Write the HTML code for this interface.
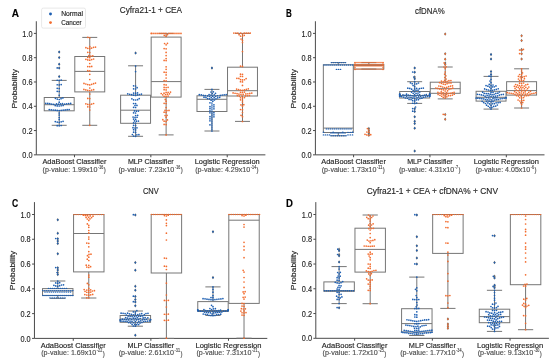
<!DOCTYPE html>
<html><head><meta charset="utf-8"><style>
html,body{margin:0;padding:0;background:#fff;width:550px;height:361px;overflow:hidden;position:relative}
text{font-family:"Liberation Sans", sans-serif;stroke:currentColor;stroke-width:0.15px;paint-order:stroke}
</style></head><body>
<svg width="550" height="361" viewBox="0 0 550 361" style="position:absolute;left:0;top:0;font-family:'Liberation Sans', sans-serif;filter:blur(0.28px)">
<rect width="550" height="361" fill="#ffffff"/>
<text x="150.9" y="13.3" font-size="8.5" text-anchor="middle" fill="#262626" color="#262626" font-weight="normal" textLength="62.2" lengthAdjust="spacingAndGlyphs">Cyfra21-1 + CEA</text>
<text x="11.87" y="16.7" font-size="10.2" text-anchor="start" fill="#000" color="#000" font-weight="bold" textLength="7.23" lengthAdjust="spacingAndGlyphs">A</text>
<text transform="translate(16.7,88.75) rotate(-90)" font-size="7.7" text-anchor="middle" fill="#262626" color="#262626" textLength="39.5" lengthAdjust="spacingAndGlyphs">Probability</text>
<path d="M36.3 21.25V154.85H265.4" fill="none" stroke="#4a4a4a" stroke-width="1"/>
<path d="M33.9 154.85H36.3" stroke="#4a4a4a" stroke-width="1"/>
<text x="32.5" y="157.95" font-size="8.6" text-anchor="end" fill="#262626" color="#262626" font-weight="normal" textLength="10.2" lengthAdjust="spacingAndGlyphs">0.0</text>
<path d="M33.9 130.56H36.3" stroke="#4a4a4a" stroke-width="1"/>
<text x="32.5" y="133.66" font-size="8.6" text-anchor="end" fill="#262626" color="#262626" font-weight="normal" textLength="10.2" lengthAdjust="spacingAndGlyphs">0.2</text>
<path d="M33.9 106.27H36.3" stroke="#4a4a4a" stroke-width="1"/>
<text x="32.5" y="109.37" font-size="8.6" text-anchor="end" fill="#262626" color="#262626" font-weight="normal" textLength="10.2" lengthAdjust="spacingAndGlyphs">0.4</text>
<path d="M33.9 81.98H36.3" stroke="#4a4a4a" stroke-width="1"/>
<text x="32.5" y="85.08" font-size="8.6" text-anchor="end" fill="#262626" color="#262626" font-weight="normal" textLength="10.2" lengthAdjust="spacingAndGlyphs">0.6</text>
<path d="M33.9 57.69H36.3" stroke="#4a4a4a" stroke-width="1"/>
<text x="32.5" y="60.79" font-size="8.6" text-anchor="end" fill="#262626" color="#262626" font-weight="normal" textLength="10.2" lengthAdjust="spacingAndGlyphs">0.8</text>
<path d="M33.9 33.4H36.3" stroke="#4a4a4a" stroke-width="1"/>
<text x="32.5" y="36.5" font-size="8.6" text-anchor="end" fill="#262626" color="#262626" font-weight="normal" textLength="10.2" lengthAdjust="spacingAndGlyphs">1.0</text>
<path d="M74.48 154.85V157.25" stroke="#4a4a4a" stroke-width="1"/>
<text x="74.48" y="164.25" font-size="7.2" text-anchor="middle" fill="#262626" color="#262626" font-weight="normal" textLength="64.1" lengthAdjust="spacingAndGlyphs">AdaBoost Classifier</text>
<text x="42.53" y="171.75" font-size="7.2" text-anchor="start" fill="#4d4d4d" color="#4d4d4d" font-weight="normal" textLength="54.9" lengthAdjust="spacingAndGlyphs">(p-value: 1.99x10</text>
<text x="98.03" y="168.75" font-size="4.6" text-anchor="start" fill="#4d4d4d" color="#4d4d4d" font-weight="normal" textLength="5.4" lengthAdjust="spacingAndGlyphs">-16</text>
<text x="103.83" y="172.05" font-size="7.2" text-anchor="start" fill="#4d4d4d" color="#4d4d4d" font-weight="normal" textLength="2" lengthAdjust="spacingAndGlyphs">)</text>
<path d="M150.85 154.85V157.25" stroke="#4a4a4a" stroke-width="1"/>
<text x="150.85" y="164.25" font-size="7.2" text-anchor="middle" fill="#262626" color="#262626" font-weight="normal" textLength="45.8" lengthAdjust="spacingAndGlyphs">MLP Classifier</text>
<text x="118.4" y="171.75" font-size="7.2" text-anchor="start" fill="#4d4d4d" color="#4d4d4d" font-weight="normal" textLength="55.9" lengthAdjust="spacingAndGlyphs">(p-value: 7.23x10</text>
<text x="174.9" y="168.75" font-size="4.6" text-anchor="start" fill="#4d4d4d" color="#4d4d4d" font-weight="normal" textLength="5.4" lengthAdjust="spacingAndGlyphs">-16</text>
<text x="180.7" y="172.05" font-size="7.2" text-anchor="start" fill="#4d4d4d" color="#4d4d4d" font-weight="normal" textLength="2" lengthAdjust="spacingAndGlyphs">)</text>
<path d="M227.22 154.85V157.25" stroke="#4a4a4a" stroke-width="1"/>
<text x="227.22" y="164.25" font-size="7.2" text-anchor="middle" fill="#262626" color="#262626" font-weight="normal" textLength="65" lengthAdjust="spacingAndGlyphs">Logistic Regression</text>
<text x="195.22" y="171.75" font-size="7.2" text-anchor="start" fill="#4d4d4d" color="#4d4d4d" font-weight="normal" textLength="55" lengthAdjust="spacingAndGlyphs">(p-value: 4.29x10</text>
<text x="250.82" y="168.75" font-size="4.6" text-anchor="start" fill="#4d4d4d" color="#4d4d4d" font-weight="normal" textLength="5.4" lengthAdjust="spacingAndGlyphs">-14</text>
<text x="256.62" y="172.05" font-size="7.2" text-anchor="start" fill="#4d4d4d" color="#4d4d4d" font-weight="normal" textLength="2" lengthAdjust="spacingAndGlyphs">)</text>
<rect x="44.24" y="97.5" width="29.94" height="13.3" fill="#fff" stroke="#767676" stroke-width="1.0"/>
<path d="M44.24 104.7H74.18M59.21 97.5V80.4M59.21 110.8V125.3M51.73 80.4H66.69M51.73 125.3H66.69" fill="none" stroke="#767676" stroke-width="1.0"/>
<rect x="74.79" y="56.5" width="29.94" height="35.4" fill="#fff" stroke="#767676" stroke-width="1.0"/>
<path d="M74.79 71.4H104.72M89.76 56.5V37.4M89.76 91.9V125.3M82.27 37.4H97.24M82.27 125.3H97.24" fill="none" stroke="#767676" stroke-width="1.0"/>
<rect x="120.61" y="95.2" width="29.94" height="28.1" fill="#fff" stroke="#767676" stroke-width="1.0"/>
<path d="M120.61 110.2H150.54M135.58 95.2V65.8M135.58 123.3V136.3M128.09 65.8H143.06M128.09 136.3H143.06" fill="none" stroke="#767676" stroke-width="1.0"/>
<rect x="151.16" y="37.1" width="29.94" height="60" fill="#fff" stroke="#767676" stroke-width="1.0"/>
<path d="M151.16 81.6H181.09M166.12 37.1V33.4M166.12 97.1V134.9M158.64 33.4H173.61M158.64 134.9H173.61" fill="none" stroke="#767676" stroke-width="1.0"/>
<rect x="196.98" y="95.8" width="29.94" height="15.7" fill="#fff" stroke="#767676" stroke-width="1.0"/>
<path d="M196.98 99.3H226.91M211.94 95.8V89.4M211.94 111.5V131M204.46 89.4H219.43M204.46 131H219.43" fill="none" stroke="#767676" stroke-width="1.0"/>
<rect x="227.52" y="67.2" width="29.94" height="28.8" fill="#fff" stroke="#767676" stroke-width="1.0"/>
<path d="M227.52 90.7H257.46M242.49 67.2V33.4M242.49 96V121.4M235.01 33.4H249.97M235.01 121.4H249.97" fill="none" stroke="#767676" stroke-width="1.0"/>
<path d="M59.21 50.15l1.15 1.75-1.15 1.75-1.15-1.75z" fill="#6e6e6e"/>
<path d="M59.21 55.85l1.15 1.75-1.15 1.75-1.15-1.75z" fill="#6e6e6e"/>
<path d="M59.21 62.45l1.15 1.75-1.15 1.75-1.15-1.75z" fill="#6e6e6e"/>
<path d="M59.21 66.35l1.15 1.75-1.15 1.75-1.15-1.75z" fill="#6e6e6e"/>
<path d="M59.21 74.85l1.15 1.75-1.15 1.75-1.15-1.75z" fill="#6e6e6e"/>
<path d="M135.58 51.35l1.15 1.75-1.15 1.75-1.15-1.75z" fill="#6e6e6e"/>
<path d="M211.94 66.15l1.15 1.75-1.15 1.75-1.15-1.75z" fill="#6e6e6e"/>
<g fill="#1d5fb2">
<ellipse cx="59.21" cy="125.8" rx="0.85" ry="0.85"/>
<ellipse cx="57.22" cy="125.65" rx="0.85" ry="0.85"/>
<ellipse cx="61.19" cy="125.5" rx="0.85" ry="0.85"/>
<ellipse cx="59.21" cy="122.3" rx="0.85" ry="0.85"/>
<ellipse cx="57.23" cy="122.05" rx="0.85" ry="0.85"/>
<ellipse cx="61.15" cy="121.8" rx="0.85" ry="0.85"/>
<ellipse cx="55.29" cy="121.55" rx="0.85" ry="0.85"/>
<ellipse cx="63.08" cy="121.3" rx="0.85" ry="0.85"/>
<ellipse cx="59.21" cy="119.5" rx="0.85" ry="0.85"/>
<ellipse cx="59.21" cy="117.5" rx="0.85" ry="0.85"/>
<ellipse cx="59.21" cy="115" rx="0.85" ry="0.85"/>
<ellipse cx="59.21" cy="113" rx="0.85" ry="0.85"/>
<ellipse cx="59.21" cy="110.5" rx="0.85" ry="0.85"/>
<ellipse cx="57.21" cy="110.4" rx="0.85" ry="0.85"/>
<ellipse cx="61.2" cy="110.3" rx="0.85" ry="0.85"/>
<ellipse cx="55.22" cy="110.2" rx="0.85" ry="0.85"/>
<ellipse cx="63.19" cy="110.1" rx="0.85" ry="0.85"/>
<ellipse cx="53.23" cy="110" rx="0.85" ry="0.85"/>
<ellipse cx="65.18" cy="109.9" rx="0.85" ry="0.85"/>
<ellipse cx="51.24" cy="109.8" rx="0.85" ry="0.85"/>
<ellipse cx="67.17" cy="109.7" rx="0.85" ry="0.85"/>
<ellipse cx="49.25" cy="109.6" rx="0.85" ry="0.85"/>
<ellipse cx="69.16" cy="109.5" rx="0.85" ry="0.85"/>
<ellipse cx="59.21" cy="106" rx="0.85" ry="0.85"/>
<ellipse cx="57.21" cy="105.88" rx="0.85" ry="0.85"/>
<ellipse cx="61.19" cy="105.75" rx="0.85" ry="0.85"/>
<ellipse cx="55.23" cy="105.62" rx="0.85" ry="0.85"/>
<ellipse cx="63.18" cy="105.5" rx="0.85" ry="0.85"/>
<ellipse cx="53.73" cy="104.3" rx="0.85" ry="0.85"/>
<ellipse cx="64.71" cy="104.22" rx="0.85" ry="0.85"/>
<ellipse cx="58.49" cy="104.13" rx="0.85" ry="0.85"/>
<ellipse cx="51.75" cy="104.05" rx="0.85" ry="0.85"/>
<ellipse cx="56.5" cy="103.97" rx="0.85" ry="0.85"/>
<ellipse cx="60.48" cy="103.88" rx="0.85" ry="0.85"/>
<ellipse cx="66.67" cy="103.8" rx="0.85" ry="0.85"/>
<ellipse cx="49.78" cy="103.72" rx="0.85" ry="0.85"/>
<ellipse cx="62.46" cy="103.63" rx="0.85" ry="0.85"/>
<ellipse cx="68.65" cy="103.55" rx="0.85" ry="0.85"/>
<ellipse cx="47.79" cy="103.47" rx="0.85" ry="0.85"/>
<ellipse cx="70.65" cy="103.38" rx="0.85" ry="0.85"/>
<ellipse cx="45.8" cy="103.3" rx="0.85" ry="0.85"/>
<ellipse cx="59.21" cy="102.2" rx="0.85" ry="0.85"/>
<ellipse cx="59.21" cy="99.5" rx="0.85" ry="0.85"/>
<ellipse cx="57.25" cy="99.1" rx="0.85" ry="0.85"/>
<ellipse cx="61.04" cy="98.7" rx="0.85" ry="0.85"/>
<ellipse cx="55.42" cy="98.3" rx="0.85" ry="0.85"/>
<ellipse cx="62.88" cy="97.9" rx="0.85" ry="0.85"/>
<ellipse cx="59.21" cy="95.3" rx="0.85" ry="0.85"/>
<ellipse cx="59.21" cy="91.5" rx="0.85" ry="0.85"/>
<ellipse cx="57.22" cy="91.3" rx="0.85" ry="0.85"/>
<ellipse cx="59.21" cy="88.5" rx="0.85" ry="0.85"/>
<ellipse cx="57.22" cy="88.3" rx="0.85" ry="0.85"/>
<ellipse cx="59.21" cy="84.9" rx="0.85" ry="0.85"/>
<ellipse cx="57.22" cy="84.75" rx="0.85" ry="0.85"/>
<ellipse cx="61.19" cy="84.6" rx="0.85" ry="0.85"/>
<ellipse cx="59.21" cy="80.4" rx="0.85" ry="0.85"/>
<ellipse cx="57.22" cy="80.25" rx="0.85" ry="0.85"/>
<ellipse cx="61.19" cy="80.1" rx="0.85" ry="0.85"/>
<ellipse cx="59.21" cy="76.6" rx="0.85" ry="0.85"/>
<ellipse cx="59.21" cy="68.1" rx="0.85" ry="0.85"/>
<ellipse cx="57.22" cy="67.9" rx="0.85" ry="0.85"/>
<ellipse cx="59.21" cy="64.2" rx="0.85" ry="0.85"/>
<ellipse cx="59.21" cy="57.6" rx="0.85" ry="0.85"/>
<ellipse cx="59.21" cy="51.9" rx="0.85" ry="0.85"/>
</g>
<g fill="#f36c2e">
<ellipse cx="89.76" cy="125.3" rx="0.85" ry="0.85"/>
<ellipse cx="89.76" cy="110" rx="0.85" ry="0.85"/>
<ellipse cx="89.76" cy="107" rx="0.85" ry="0.85"/>
<ellipse cx="87.77" cy="106.8" rx="0.85" ry="0.85"/>
<ellipse cx="89.76" cy="104.7" rx="0.85" ry="0.85"/>
<ellipse cx="87.78" cy="104.4" rx="0.85" ry="0.85"/>
<ellipse cx="91.66" cy="104.1" rx="0.85" ry="0.85"/>
<ellipse cx="85.87" cy="103.8" rx="0.85" ry="0.85"/>
<ellipse cx="93.57" cy="103.5" rx="0.85" ry="0.85"/>
<ellipse cx="89.76" cy="98.6" rx="0.85" ry="0.85"/>
<ellipse cx="87.77" cy="98.4" rx="0.85" ry="0.85"/>
<ellipse cx="89.76" cy="94" rx="0.85" ry="0.85"/>
<ellipse cx="89.76" cy="90.6" rx="0.85" ry="0.85"/>
<ellipse cx="87.77" cy="90.36" rx="0.85" ry="0.85"/>
<ellipse cx="91.7" cy="90.12" rx="0.85" ry="0.85"/>
<ellipse cx="85.83" cy="89.88" rx="0.85" ry="0.85"/>
<ellipse cx="93.64" cy="89.64" rx="0.85" ry="0.85"/>
<ellipse cx="83.89" cy="89.4" rx="0.85" ry="0.85"/>
<ellipse cx="89.76" cy="88" rx="0.85" ry="0.85"/>
<ellipse cx="89.76" cy="84.9" rx="0.85" ry="0.85"/>
<ellipse cx="87.78" cy="84.6" rx="0.85" ry="0.85"/>
<ellipse cx="91.66" cy="84.3" rx="0.85" ry="0.85"/>
<ellipse cx="85.87" cy="84" rx="0.85" ry="0.85"/>
<ellipse cx="93.57" cy="83.7" rx="0.85" ry="0.85"/>
<ellipse cx="83.96" cy="83.4" rx="0.85" ry="0.85"/>
<ellipse cx="95.48" cy="83.1" rx="0.85" ry="0.85"/>
<ellipse cx="89.76" cy="79.5" rx="0.85" ry="0.85"/>
<ellipse cx="89.76" cy="74.3" rx="0.85" ry="0.85"/>
<ellipse cx="89.76" cy="70.9" rx="0.85" ry="0.85"/>
<ellipse cx="87.77" cy="70.7" rx="0.85" ry="0.85"/>
<ellipse cx="89.76" cy="66.7" rx="0.85" ry="0.85"/>
<ellipse cx="87.76" cy="66.55" rx="0.85" ry="0.85"/>
<ellipse cx="91.73" cy="66.4" rx="0.85" ry="0.85"/>
<ellipse cx="89.76" cy="63.5" rx="0.85" ry="0.85"/>
<ellipse cx="89.76" cy="60.2" rx="0.85" ry="0.85"/>
<ellipse cx="87.78" cy="59.9" rx="0.85" ry="0.85"/>
<ellipse cx="91.66" cy="59.6" rx="0.85" ry="0.85"/>
<ellipse cx="85.87" cy="59.3" rx="0.85" ry="0.85"/>
<ellipse cx="93.57" cy="59" rx="0.85" ry="0.85"/>
<ellipse cx="89.76" cy="57.7" rx="0.85" ry="0.85"/>
<ellipse cx="87.77" cy="57.5" rx="0.85" ry="0.85"/>
<ellipse cx="90.81" cy="56" rx="0.85" ry="0.85"/>
<ellipse cx="92.8" cy="55.85" rx="0.85" ry="0.85"/>
<ellipse cx="88.83" cy="55.7" rx="0.85" ry="0.85"/>
<ellipse cx="89.76" cy="52.5" rx="0.85" ry="0.85"/>
<ellipse cx="87.77" cy="52.3" rx="0.85" ry="0.85"/>
<ellipse cx="89.76" cy="48.7" rx="0.85" ry="0.85"/>
<ellipse cx="87.78" cy="48.37" rx="0.85" ry="0.85"/>
<ellipse cx="91.64" cy="48.03" rx="0.85" ry="0.85"/>
<ellipse cx="85.9" cy="47.7" rx="0.85" ry="0.85"/>
<ellipse cx="93.53" cy="47.37" rx="0.85" ry="0.85"/>
<ellipse cx="95.5" cy="47.03" rx="0.85" ry="0.85"/>
<ellipse cx="89.76" cy="46.7" rx="0.85" ry="0.85"/>
<ellipse cx="89.76" cy="37.8" rx="0.85" ry="0.85"/>
<ellipse cx="87.82" cy="37.3" rx="0.85" ry="0.85"/>
</g>
<g fill="#1d5fb2">
<ellipse cx="135.58" cy="136.3" rx="0.85" ry="0.85"/>
<ellipse cx="133.59" cy="136.1" rx="0.85" ry="0.85"/>
<ellipse cx="136.9" cy="134.8" rx="0.85" ry="0.85"/>
<ellipse cx="138.89" cy="134.65" rx="0.85" ry="0.85"/>
<ellipse cx="132.39" cy="134.5" rx="0.85" ry="0.85"/>
<ellipse cx="135.58" cy="132.4" rx="0.85" ry="0.85"/>
<ellipse cx="133.59" cy="132.2" rx="0.85" ry="0.85"/>
<ellipse cx="135.58" cy="129.9" rx="0.85" ry="0.85"/>
<ellipse cx="133.59" cy="129.7" rx="0.85" ry="0.85"/>
<ellipse cx="134.95" cy="128" rx="0.85" ry="0.85"/>
<ellipse cx="136.95" cy="127.85" rx="0.85" ry="0.85"/>
<ellipse cx="132.97" cy="127.7" rx="0.85" ry="0.85"/>
<ellipse cx="135.58" cy="125.5" rx="0.85" ry="0.85"/>
<ellipse cx="133.59" cy="125.3" rx="0.85" ry="0.85"/>
<ellipse cx="135.58" cy="123" rx="0.85" ry="0.85"/>
<ellipse cx="133.59" cy="122.8" rx="0.85" ry="0.85"/>
<ellipse cx="136.45" cy="121.2" rx="0.85" ry="0.85"/>
<ellipse cx="138.44" cy="121.05" rx="0.85" ry="0.85"/>
<ellipse cx="134.47" cy="120.9" rx="0.85" ry="0.85"/>
<ellipse cx="135.67" cy="119.3" rx="0.85" ry="0.85"/>
<ellipse cx="133.6" cy="119.1" rx="0.85" ry="0.85"/>
<ellipse cx="135.05" cy="117.4" rx="0.85" ry="0.85"/>
<ellipse cx="137.04" cy="117.25" rx="0.85" ry="0.85"/>
<ellipse cx="133.07" cy="117.1" rx="0.85" ry="0.85"/>
<ellipse cx="135.67" cy="115.5" rx="0.85" ry="0.85"/>
<ellipse cx="137.66" cy="115.3" rx="0.85" ry="0.85"/>
<ellipse cx="135.58" cy="113" rx="0.85" ry="0.85"/>
<ellipse cx="133.59" cy="112.8" rx="0.85" ry="0.85"/>
<ellipse cx="136.45" cy="111.2" rx="0.85" ry="0.85"/>
<ellipse cx="138.44" cy="111.05" rx="0.85" ry="0.85"/>
<ellipse cx="134.47" cy="110.9" rx="0.85" ry="0.85"/>
<ellipse cx="135.58" cy="107.5" rx="0.85" ry="0.85"/>
<ellipse cx="133.59" cy="107.3" rx="0.85" ry="0.85"/>
<ellipse cx="134.95" cy="105.6" rx="0.85" ry="0.85"/>
<ellipse cx="136.94" cy="105.4" rx="0.85" ry="0.85"/>
<ellipse cx="135.58" cy="103.7" rx="0.85" ry="0.85"/>
<ellipse cx="133.59" cy="103.5" rx="0.85" ry="0.85"/>
<ellipse cx="135.58" cy="100" rx="0.85" ry="0.85"/>
<ellipse cx="133.58" cy="99.85" rx="0.85" ry="0.85"/>
<ellipse cx="137.55" cy="99.7" rx="0.85" ry="0.85"/>
<ellipse cx="131.88" cy="98.8" rx="0.85" ry="0.85"/>
<ellipse cx="139.22" cy="98.6" rx="0.85" ry="0.85"/>
<ellipse cx="135.58" cy="95.4" rx="0.85" ry="0.85"/>
<ellipse cx="133.59" cy="95.17" rx="0.85" ry="0.85"/>
<ellipse cx="137.52" cy="94.94" rx="0.85" ry="0.85"/>
<ellipse cx="131.64" cy="94.71" rx="0.85" ry="0.85"/>
<ellipse cx="139.47" cy="94.49" rx="0.85" ry="0.85"/>
<ellipse cx="129.7" cy="94.26" rx="0.85" ry="0.85"/>
<ellipse cx="141.42" cy="94.03" rx="0.85" ry="0.85"/>
<ellipse cx="127.75" cy="93.8" rx="0.85" ry="0.85"/>
<ellipse cx="135.58" cy="93.2" rx="0.85" ry="0.85"/>
<ellipse cx="133.58" cy="93.05" rx="0.85" ry="0.85"/>
<ellipse cx="137.55" cy="92.9" rx="0.85" ry="0.85"/>
<ellipse cx="135.58" cy="89" rx="0.85" ry="0.85"/>
<ellipse cx="133.59" cy="88.8" rx="0.85" ry="0.85"/>
<ellipse cx="137.1" cy="87.7" rx="0.85" ry="0.85"/>
<ellipse cx="135.58" cy="86" rx="0.85" ry="0.85"/>
<ellipse cx="133.59" cy="85.8" rx="0.85" ry="0.85"/>
<ellipse cx="135.58" cy="71.6" rx="0.85" ry="0.85"/>
<ellipse cx="135.58" cy="66.1" rx="0.85" ry="0.85"/>
<ellipse cx="135.58" cy="53.1" rx="0.85" ry="0.85"/>
</g>
<g fill="#f36c2e">
<ellipse cx="166.12" cy="134.9" rx="0.85" ry="0.85"/>
<ellipse cx="166.12" cy="124.6" rx="0.85" ry="0.85"/>
<ellipse cx="164.13" cy="124.4" rx="0.85" ry="0.85"/>
<ellipse cx="166.12" cy="121.4" rx="0.85" ry="0.85"/>
<ellipse cx="164.13" cy="121.2" rx="0.85" ry="0.85"/>
<ellipse cx="167.45" cy="119.9" rx="0.85" ry="0.85"/>
<ellipse cx="162.81" cy="119.7" rx="0.85" ry="0.85"/>
<ellipse cx="166.12" cy="117.2" rx="0.85" ry="0.85"/>
<ellipse cx="165.07" cy="115.5" rx="0.85" ry="0.85"/>
<ellipse cx="167.06" cy="115.3" rx="0.85" ry="0.85"/>
<ellipse cx="166.12" cy="112.4" rx="0.85" ry="0.85"/>
<ellipse cx="164.13" cy="112.2" rx="0.85" ry="0.85"/>
<ellipse cx="167" cy="110.6" rx="0.85" ry="0.85"/>
<ellipse cx="168.99" cy="110.45" rx="0.85" ry="0.85"/>
<ellipse cx="165.02" cy="110.3" rx="0.85" ry="0.85"/>
<ellipse cx="166.12" cy="107.5" rx="0.85" ry="0.85"/>
<ellipse cx="166.12" cy="103.5" rx="0.85" ry="0.85"/>
<ellipse cx="164.13" cy="103.3" rx="0.85" ry="0.85"/>
<ellipse cx="166.12" cy="101.2" rx="0.85" ry="0.85"/>
<ellipse cx="165.25" cy="99.4" rx="0.85" ry="0.85"/>
<ellipse cx="166.12" cy="96.4" rx="0.85" ry="0.85"/>
<ellipse cx="164.13" cy="96.25" rx="0.85" ry="0.85"/>
<ellipse cx="168.1" cy="96.1" rx="0.85" ry="0.85"/>
<ellipse cx="162.75" cy="94.8" rx="0.85" ry="0.85"/>
<ellipse cx="165.56" cy="94.48" rx="0.85" ry="0.85"/>
<ellipse cx="167.54" cy="94.16" rx="0.85" ry="0.85"/>
<ellipse cx="169.51" cy="93.84" rx="0.85" ry="0.85"/>
<ellipse cx="161.21" cy="93.52" rx="0.85" ry="0.85"/>
<ellipse cx="164.03" cy="93.2" rx="0.85" ry="0.85"/>
<ellipse cx="166.12" cy="92.4" rx="0.85" ry="0.85"/>
<ellipse cx="168.13" cy="92.25" rx="0.85" ry="0.85"/>
<ellipse cx="170.5" cy="92.1" rx="0.85" ry="0.85"/>
<ellipse cx="166.12" cy="89.9" rx="0.85" ry="0.85"/>
<ellipse cx="164.13" cy="89.7" rx="0.85" ry="0.85"/>
<ellipse cx="166.12" cy="87.6" rx="0.85" ry="0.85"/>
<ellipse cx="164.13" cy="87.45" rx="0.85" ry="0.85"/>
<ellipse cx="168.1" cy="87.3" rx="0.85" ry="0.85"/>
<ellipse cx="166.12" cy="84.9" rx="0.85" ry="0.85"/>
<ellipse cx="164.13" cy="84.7" rx="0.85" ry="0.85"/>
<ellipse cx="166.12" cy="80.9" rx="0.85" ry="0.85"/>
<ellipse cx="164.13" cy="80.7" rx="0.85" ry="0.85"/>
<ellipse cx="166.12" cy="78" rx="0.85" ry="0.85"/>
<ellipse cx="166.12" cy="74.9" rx="0.85" ry="0.85"/>
<ellipse cx="166.12" cy="72.4" rx="0.85" ry="0.85"/>
<ellipse cx="164.13" cy="72.2" rx="0.85" ry="0.85"/>
<ellipse cx="166.12" cy="69.3" rx="0.85" ry="0.85"/>
<ellipse cx="166.12" cy="66.8" rx="0.85" ry="0.85"/>
<ellipse cx="166.12" cy="60.6" rx="0.85" ry="0.85"/>
<ellipse cx="164.13" cy="60.4" rx="0.85" ry="0.85"/>
<ellipse cx="166.12" cy="58.6" rx="0.85" ry="0.85"/>
<ellipse cx="166.12" cy="55.6" rx="0.85" ry="0.85"/>
<ellipse cx="166.12" cy="52.4" rx="0.85" ry="0.85"/>
<ellipse cx="166.12" cy="48.8" rx="0.85" ry="0.85"/>
<ellipse cx="164.13" cy="48.6" rx="0.85" ry="0.85"/>
<ellipse cx="166.12" cy="44.8" rx="0.85" ry="0.85"/>
<ellipse cx="164.6" cy="43.5" rx="0.85" ry="0.85"/>
<ellipse cx="167.45" cy="43.3" rx="0.85" ry="0.85"/>
<ellipse cx="166.12" cy="36.2" rx="0.85" ry="0.85"/>
<ellipse cx="164.27" cy="35.45" rx="0.85" ry="0.85"/>
<ellipse cx="167.45" cy="34.7" rx="0.85" ry="0.85"/>
<ellipse cx="165.93" cy="33.4" rx="0.85" ry="0.85"/>
<ellipse cx="163.93" cy="33.4" rx="0.85" ry="0.85"/>
<ellipse cx="168.97" cy="33.4" rx="0.85" ry="0.85"/>
<ellipse cx="161.93" cy="33.4" rx="0.85" ry="0.85"/>
<ellipse cx="170.97" cy="33.4" rx="0.85" ry="0.85"/>
<ellipse cx="159.93" cy="33.4" rx="0.85" ry="0.85"/>
<ellipse cx="172.97" cy="33.4" rx="0.85" ry="0.85"/>
<ellipse cx="157.93" cy="33.4" rx="0.85" ry="0.85"/>
<ellipse cx="174.97" cy="33.4" rx="0.85" ry="0.85"/>
<ellipse cx="155.93" cy="33.4" rx="0.85" ry="0.85"/>
<ellipse cx="176.97" cy="33.4" rx="0.85" ry="0.85"/>
<ellipse cx="153.93" cy="33.4" rx="0.85" ry="0.85"/>
<ellipse cx="178.97" cy="33.4" rx="0.85" ry="0.85"/>
<ellipse cx="151.93" cy="33.4" rx="0.85" ry="0.85"/>
<ellipse cx="180.97" cy="33.4" rx="0.85" ry="0.85"/>
<ellipse cx="151.16" cy="33.4" rx="0.85" ry="0.85"/>
</g>
<g fill="#1d5fb2">
<ellipse cx="211.94" cy="131" rx="0.85" ry="0.85"/>
<ellipse cx="211.94" cy="129" rx="0.85" ry="0.85"/>
<ellipse cx="211.94" cy="127" rx="0.85" ry="0.85"/>
<ellipse cx="211.94" cy="125" rx="0.85" ry="0.85"/>
<ellipse cx="209.95" cy="124.8" rx="0.85" ry="0.85"/>
<ellipse cx="211.94" cy="123" rx="0.85" ry="0.85"/>
<ellipse cx="211.94" cy="121" rx="0.85" ry="0.85"/>
<ellipse cx="209.95" cy="120.8" rx="0.85" ry="0.85"/>
<ellipse cx="211.94" cy="119" rx="0.85" ry="0.85"/>
<ellipse cx="209.95" cy="118.8" rx="0.85" ry="0.85"/>
<ellipse cx="211.94" cy="117" rx="0.85" ry="0.85"/>
<ellipse cx="213.94" cy="116.85" rx="0.85" ry="0.85"/>
<ellipse cx="209.97" cy="116.7" rx="0.85" ry="0.85"/>
<ellipse cx="211.94" cy="115" rx="0.85" ry="0.85"/>
<ellipse cx="213.93" cy="114.8" rx="0.85" ry="0.85"/>
<ellipse cx="211.94" cy="113" rx="0.85" ry="0.85"/>
<ellipse cx="209.95" cy="112.85" rx="0.85" ry="0.85"/>
<ellipse cx="213.92" cy="112.7" rx="0.85" ry="0.85"/>
<ellipse cx="211.94" cy="111" rx="0.85" ry="0.85"/>
<ellipse cx="209.95" cy="110.8" rx="0.85" ry="0.85"/>
<ellipse cx="211.94" cy="109" rx="0.85" ry="0.85"/>
<ellipse cx="213.94" cy="108.85" rx="0.85" ry="0.85"/>
<ellipse cx="209.97" cy="108.7" rx="0.85" ry="0.85"/>
<ellipse cx="211.94" cy="107" rx="0.85" ry="0.85"/>
<ellipse cx="213.94" cy="106.85" rx="0.85" ry="0.85"/>
<ellipse cx="209.97" cy="106.7" rx="0.85" ry="0.85"/>
<ellipse cx="211.94" cy="105" rx="0.85" ry="0.85"/>
<ellipse cx="213.93" cy="104.8" rx="0.85" ry="0.85"/>
<ellipse cx="211.94" cy="103" rx="0.85" ry="0.85"/>
<ellipse cx="209.95" cy="102.8" rx="0.85" ry="0.85"/>
<ellipse cx="212.82" cy="101.2" rx="0.85" ry="0.85"/>
<ellipse cx="211.08" cy="100.2" rx="0.85" ry="0.85"/>
<ellipse cx="214.42" cy="100" rx="0.85" ry="0.85"/>
<ellipse cx="212.68" cy="99" rx="0.85" ry="0.85"/>
<ellipse cx="209.59" cy="98.87" rx="0.85" ry="0.85"/>
<ellipse cx="215.96" cy="98.73" rx="0.85" ry="0.85"/>
<ellipse cx="207.61" cy="98.6" rx="0.85" ry="0.85"/>
<ellipse cx="217.73" cy="97.8" rx="0.85" ry="0.85"/>
<ellipse cx="214.19" cy="97.68" rx="0.85" ry="0.85"/>
<ellipse cx="211.3" cy="97.56" rx="0.85" ry="0.85"/>
<ellipse cx="205.98" cy="97.44" rx="0.85" ry="0.85"/>
<ellipse cx="219.67" cy="97.32" rx="0.85" ry="0.85"/>
<ellipse cx="204" cy="97.2" rx="0.85" ry="0.85"/>
<ellipse cx="209.6" cy="96.5" rx="0.85" ry="0.85"/>
<ellipse cx="215.65" cy="96.32" rx="0.85" ry="0.85"/>
<ellipse cx="212.7" cy="96.14" rx="0.85" ry="0.85"/>
<ellipse cx="207.67" cy="95.95" rx="0.85" ry="0.85"/>
<ellipse cx="217.57" cy="95.77" rx="0.85" ry="0.85"/>
<ellipse cx="205.22" cy="95.59" rx="0.85" ry="0.85"/>
<ellipse cx="220.26" cy="95.41" rx="0.85" ry="0.85"/>
<ellipse cx="203.25" cy="95.23" rx="0.85" ry="0.85"/>
<ellipse cx="211.02" cy="95.05" rx="0.85" ry="0.85"/>
<ellipse cx="222.22" cy="95" rx="0.85" ry="0.85"/>
<ellipse cx="214.25" cy="94.87" rx="0.85" ry="0.85"/>
<ellipse cx="201.29" cy="94.86" rx="0.85" ry="0.85"/>
<ellipse cx="224.2" cy="94.73" rx="0.85" ry="0.85"/>
<ellipse cx="199.29" cy="94.68" rx="0.85" ry="0.85"/>
<ellipse cx="226.2" cy="94.6" rx="0.85" ry="0.85"/>
<ellipse cx="209.1" cy="94.5" rx="0.85" ry="0.85"/>
<ellipse cx="212.29" cy="93.5" rx="0.85" ry="0.85"/>
<ellipse cx="215.49" cy="93.3" rx="0.85" ry="0.85"/>
<ellipse cx="210.97" cy="92" rx="0.85" ry="0.85"/>
<ellipse cx="213.35" cy="91.8" rx="0.85" ry="0.85"/>
<ellipse cx="211.94" cy="89.4" rx="0.85" ry="0.85"/>
<ellipse cx="211.94" cy="67.9" rx="0.85" ry="0.85"/>
</g>
<g fill="#f36c2e">
<ellipse cx="242.49" cy="121.5" rx="0.85" ry="0.85"/>
<ellipse cx="242.49" cy="116.7" rx="0.85" ry="0.85"/>
<ellipse cx="241.06" cy="115.3" rx="0.85" ry="0.85"/>
<ellipse cx="242.49" cy="112.5" rx="0.85" ry="0.85"/>
<ellipse cx="242.49" cy="109.7" rx="0.85" ry="0.85"/>
<ellipse cx="240.5" cy="109.5" rx="0.85" ry="0.85"/>
<ellipse cx="242.49" cy="106.2" rx="0.85" ry="0.85"/>
<ellipse cx="240.97" cy="104.9" rx="0.85" ry="0.85"/>
<ellipse cx="243.81" cy="104.7" rx="0.85" ry="0.85"/>
<ellipse cx="242.49" cy="102.1" rx="0.85" ry="0.85"/>
<ellipse cx="242.49" cy="100" rx="0.85" ry="0.85"/>
<ellipse cx="240.5" cy="99.8" rx="0.85" ry="0.85"/>
<ellipse cx="242.49" cy="97.9" rx="0.85" ry="0.85"/>
<ellipse cx="240.5" cy="97.75" rx="0.85" ry="0.85"/>
<ellipse cx="244.47" cy="97.6" rx="0.85" ry="0.85"/>
<ellipse cx="239.37" cy="96.1" rx="0.85" ry="0.85"/>
<ellipse cx="241.93" cy="95.98" rx="0.85" ry="0.85"/>
<ellipse cx="245.45" cy="95.86" rx="0.85" ry="0.85"/>
<ellipse cx="247.45" cy="95.74" rx="0.85" ry="0.85"/>
<ellipse cx="237.42" cy="95.62" rx="0.85" ry="0.85"/>
<ellipse cx="249.44" cy="95.5" rx="0.85" ry="0.85"/>
<ellipse cx="243.16" cy="94.4" rx="0.85" ry="0.85"/>
<ellipse cx="240.96" cy="94.23" rx="0.85" ry="0.85"/>
<ellipse cx="238.96" cy="94.07" rx="0.85" ry="0.85"/>
<ellipse cx="245.85" cy="93.9" rx="0.85" ry="0.85"/>
<ellipse cx="247.84" cy="93.73" rx="0.85" ry="0.85"/>
<ellipse cx="237.03" cy="93.57" rx="0.85" ry="0.85"/>
<ellipse cx="249.82" cy="93.4" rx="0.85" ry="0.85"/>
<ellipse cx="235.05" cy="93.23" rx="0.85" ry="0.85"/>
<ellipse cx="251.79" cy="93.07" rx="0.85" ry="0.85"/>
<ellipse cx="233.08" cy="92.9" rx="0.85" ry="0.85"/>
<ellipse cx="242.49" cy="92.4" rx="0.85" ry="0.85"/>
<ellipse cx="240.5" cy="92.25" rx="0.85" ry="0.85"/>
<ellipse cx="244.47" cy="92.1" rx="0.85" ry="0.85"/>
<ellipse cx="242.49" cy="90.3" rx="0.85" ry="0.85"/>
<ellipse cx="240.51" cy="90.05" rx="0.85" ry="0.85"/>
<ellipse cx="244.43" cy="89.8" rx="0.85" ry="0.85"/>
<ellipse cx="238.57" cy="89.55" rx="0.85" ry="0.85"/>
<ellipse cx="246.36" cy="89.3" rx="0.85" ry="0.85"/>
<ellipse cx="236.63" cy="89.05" rx="0.85" ry="0.85"/>
<ellipse cx="248.3" cy="88.8" rx="0.85" ry="0.85"/>
<ellipse cx="242.49" cy="85.4" rx="0.85" ry="0.85"/>
<ellipse cx="242.49" cy="81.9" rx="0.85" ry="0.85"/>
<ellipse cx="240.5" cy="81.7" rx="0.85" ry="0.85"/>
<ellipse cx="242.49" cy="79.9" rx="0.85" ry="0.85"/>
<ellipse cx="244.48" cy="79.75" rx="0.85" ry="0.85"/>
<ellipse cx="240.51" cy="79.6" rx="0.85" ry="0.85"/>
<ellipse cx="246.12" cy="78.6" rx="0.85" ry="0.85"/>
<ellipse cx="238.88" cy="78.45" rx="0.85" ry="0.85"/>
<ellipse cx="236.88" cy="78.3" rx="0.85" ry="0.85"/>
<ellipse cx="242.49" cy="76.5" rx="0.85" ry="0.85"/>
<ellipse cx="240.5" cy="76.3" rx="0.85" ry="0.85"/>
<ellipse cx="242.49" cy="74.4" rx="0.85" ry="0.85"/>
<ellipse cx="240.5" cy="74.2" rx="0.85" ry="0.85"/>
<ellipse cx="242.49" cy="66.4" rx="0.85" ry="0.85"/>
<ellipse cx="240.5" cy="66.2" rx="0.85" ry="0.85"/>
<ellipse cx="242.49" cy="51.5" rx="0.85" ry="0.85"/>
<ellipse cx="242.49" cy="42.5" rx="0.85" ry="0.85"/>
<ellipse cx="242.49" cy="40.4" rx="0.85" ry="0.85"/>
<ellipse cx="241.06" cy="39" rx="0.85" ry="0.85"/>
<ellipse cx="242.49" cy="36.3" rx="0.85" ry="0.85"/>
<ellipse cx="240.5" cy="36.1" rx="0.85" ry="0.85"/>
<ellipse cx="244.22" cy="35.3" rx="0.85" ry="0.85"/>
<ellipse cx="239.07" cy="34.7" rx="0.85" ry="0.85"/>
<ellipse cx="242.49" cy="34.1" rx="0.85" ry="0.85"/>
<ellipse cx="240.76" cy="33.1" rx="0.85" ry="0.85"/>
<ellipse cx="244.22" cy="33.1" rx="0.85" ry="0.85"/>
<ellipse cx="246.22" cy="33.1" rx="0.85" ry="0.85"/>
<ellipse cx="237.87" cy="33.1" rx="0.85" ry="0.85"/>
<ellipse cx="248.22" cy="33.1" rx="0.85" ry="0.85"/>
<ellipse cx="235.87" cy="33.1" rx="0.85" ry="0.85"/>
<ellipse cx="250.22" cy="33.1" rx="0.85" ry="0.85"/>
<ellipse cx="233.87" cy="33.1" rx="0.85" ry="0.85"/>
</g>
<text x="429.85" y="13.5" font-size="8.5" text-anchor="middle" fill="#262626" color="#262626" font-weight="normal" textLength="29.7" lengthAdjust="spacingAndGlyphs">cfDNA%</text>
<text x="286" y="16.7" font-size="10.2" text-anchor="start" fill="#000" color="#000" font-weight="bold" textLength="5.8" lengthAdjust="spacingAndGlyphs">B</text>
<text transform="translate(295.8,88.75) rotate(-90)" font-size="7.7" text-anchor="middle" fill="#262626" color="#262626" textLength="39.5" lengthAdjust="spacingAndGlyphs">Probability</text>
<path d="M315.4 21.25V154.85H544.5" fill="none" stroke="#4a4a4a" stroke-width="1"/>
<path d="M313 154.85H315.4" stroke="#4a4a4a" stroke-width="1"/>
<text x="311.6" y="157.95" font-size="8.6" text-anchor="end" fill="#262626" color="#262626" font-weight="normal" textLength="10.2" lengthAdjust="spacingAndGlyphs">0.0</text>
<path d="M313 130.56H315.4" stroke="#4a4a4a" stroke-width="1"/>
<text x="311.6" y="133.66" font-size="8.6" text-anchor="end" fill="#262626" color="#262626" font-weight="normal" textLength="10.2" lengthAdjust="spacingAndGlyphs">0.2</text>
<path d="M313 106.27H315.4" stroke="#4a4a4a" stroke-width="1"/>
<text x="311.6" y="109.37" font-size="8.6" text-anchor="end" fill="#262626" color="#262626" font-weight="normal" textLength="10.2" lengthAdjust="spacingAndGlyphs">0.4</text>
<path d="M313 81.98H315.4" stroke="#4a4a4a" stroke-width="1"/>
<text x="311.6" y="85.08" font-size="8.6" text-anchor="end" fill="#262626" color="#262626" font-weight="normal" textLength="10.2" lengthAdjust="spacingAndGlyphs">0.6</text>
<path d="M313 57.69H315.4" stroke="#4a4a4a" stroke-width="1"/>
<text x="311.6" y="60.79" font-size="8.6" text-anchor="end" fill="#262626" color="#262626" font-weight="normal" textLength="10.2" lengthAdjust="spacingAndGlyphs">0.8</text>
<path d="M313 33.4H315.4" stroke="#4a4a4a" stroke-width="1"/>
<text x="311.6" y="36.5" font-size="8.6" text-anchor="end" fill="#262626" color="#262626" font-weight="normal" textLength="10.2" lengthAdjust="spacingAndGlyphs">1.0</text>
<path d="M353.58 154.85V157.25" stroke="#4a4a4a" stroke-width="1"/>
<text x="353.58" y="164.25" font-size="7.2" text-anchor="middle" fill="#262626" color="#262626" font-weight="normal" textLength="64.6" lengthAdjust="spacingAndGlyphs">AdaBoost Classifier</text>
<text x="321.78" y="171.75" font-size="7.2" text-anchor="start" fill="#4d4d4d" color="#4d4d4d" font-weight="normal" textLength="54.6" lengthAdjust="spacingAndGlyphs">(p-value: 1.73x10</text>
<text x="376.98" y="168.75" font-size="4.6" text-anchor="start" fill="#4d4d4d" color="#4d4d4d" font-weight="normal" textLength="5.4" lengthAdjust="spacingAndGlyphs">-11</text>
<text x="382.78" y="172.05" font-size="7.2" text-anchor="start" fill="#4d4d4d" color="#4d4d4d" font-weight="normal" textLength="2" lengthAdjust="spacingAndGlyphs">)</text>
<path d="M429.95 154.85V157.25" stroke="#4a4a4a" stroke-width="1"/>
<text x="429.95" y="164.25" font-size="7.2" text-anchor="middle" fill="#262626" color="#262626" font-weight="normal" textLength="45.6" lengthAdjust="spacingAndGlyphs">MLP Classifier</text>
<text x="398.9" y="171.75" font-size="7.2" text-anchor="start" fill="#4d4d4d" color="#4d4d4d" font-weight="normal" textLength="55.3" lengthAdjust="spacingAndGlyphs">(p-value: 4.31x10</text>
<text x="454.8" y="168.75" font-size="4.6" text-anchor="start" fill="#4d4d4d" color="#4d4d4d" font-weight="normal" textLength="3.2" lengthAdjust="spacingAndGlyphs">-7</text>
<text x="458.4" y="172.05" font-size="7.2" text-anchor="start" fill="#4d4d4d" color="#4d4d4d" font-weight="normal" textLength="2" lengthAdjust="spacingAndGlyphs">)</text>
<path d="M506.32 154.85V157.25" stroke="#4a4a4a" stroke-width="1"/>
<text x="506.32" y="164.25" font-size="7.2" text-anchor="middle" fill="#262626" color="#262626" font-weight="normal" textLength="65.2" lengthAdjust="spacingAndGlyphs">Logistic Regression</text>
<text x="475.62" y="171.75" font-size="7.2" text-anchor="start" fill="#4d4d4d" color="#4d4d4d" font-weight="normal" textLength="54.6" lengthAdjust="spacingAndGlyphs">(p-value: 4.05x10</text>
<text x="530.82" y="168.75" font-size="4.6" text-anchor="start" fill="#4d4d4d" color="#4d4d4d" font-weight="normal" textLength="3.2" lengthAdjust="spacingAndGlyphs">-6</text>
<text x="534.42" y="172.05" font-size="7.2" text-anchor="start" fill="#4d4d4d" color="#4d4d4d" font-weight="normal" textLength="2" lengthAdjust="spacingAndGlyphs">)</text>
<rect x="323.34" y="64.8" width="29.94" height="67.7" fill="#fff" stroke="#767676" stroke-width="1.0"/>
<path d="M323.34 128.1H353.28M338.31 64.8V62.6M338.31 132.5V135.8M330.83 62.6H345.79M330.83 135.8H345.79" fill="none" stroke="#767676" stroke-width="1.0"/>
<rect x="353.89" y="64.4" width="29.94" height="4.7" fill="#fff" stroke="#767676" stroke-width="1.0"/>
<path d="M353.89 65.5H383.82M368.86 64.4V62.6M368.86 69.1V69.1M361.37 62.6H376.34M361.37 69.1H376.34" fill="none" stroke="#767676" stroke-width="1.0"/>
<rect x="399.71" y="91.5" width="29.94" height="6.5" fill="#fff" stroke="#767676" stroke-width="1.0"/>
<path d="M399.71 95.5H429.64M414.68 91.5V81.7M414.68 98V103.4M407.19 81.7H422.16M407.19 103.4H422.16" fill="none" stroke="#767676" stroke-width="1.0"/>
<rect x="430.26" y="82.2" width="29.94" height="11.1" fill="#fff" stroke="#767676" stroke-width="1.0"/>
<path d="M430.26 88.7H460.19M445.22 82.2V67M445.22 93.3V98.9M437.74 67H452.71M437.74 98.9H452.71" fill="none" stroke="#767676" stroke-width="1.0"/>
<rect x="476.08" y="91.3" width="29.94" height="9.8" fill="#fff" stroke="#767676" stroke-width="1.0"/>
<path d="M476.08 97.3H506.01M491.04 91.3V76.4M491.04 101.1V109.1M483.56 76.4H498.53M483.56 109.1H498.53" fill="none" stroke="#767676" stroke-width="1.0"/>
<rect x="506.62" y="81.7" width="29.94" height="13.4" fill="#fff" stroke="#767676" stroke-width="1.0"/>
<path d="M506.62 90.6H536.56M521.59 81.7V68.8M521.59 95.1V108M514.11 68.8H529.07M514.11 108H529.07" fill="none" stroke="#767676" stroke-width="1.0"/>
<path d="M368.86 126.85l1.15 1.75-1.15 1.75-1.15-1.75z" fill="#6e6e6e"/>
<path d="M368.86 128.75l1.15 1.75-1.15 1.75-1.15-1.75z" fill="#6e6e6e"/>
<path d="M368.86 130.55l1.15 1.75-1.15 1.75-1.15-1.75z" fill="#6e6e6e"/>
<path d="M368.86 131.75l1.15 1.75-1.15 1.75-1.15-1.75z" fill="#6e6e6e"/>
<path d="M368.86 133.45l1.15 1.75-1.15 1.75-1.15-1.75z" fill="#6e6e6e"/>
<path d="M414.68 66.15l1.15 1.75-1.15 1.75-1.15-1.75z" fill="#6e6e6e"/>
<path d="M414.68 70.45l1.15 1.75-1.15 1.75-1.15-1.75z" fill="#6e6e6e"/>
<path d="M414.68 75.25l1.15 1.75-1.15 1.75-1.15-1.75z" fill="#6e6e6e"/>
<path d="M414.68 77.05l1.15 1.75-1.15 1.75-1.15-1.75z" fill="#6e6e6e"/>
<path d="M414.68 107.05l1.15 1.75-1.15 1.75-1.15-1.75z" fill="#6e6e6e"/>
<path d="M414.68 109.65l1.15 1.75-1.15 1.75-1.15-1.75z" fill="#6e6e6e"/>
<path d="M414.68 115.05l1.15 1.75-1.15 1.75-1.15-1.75z" fill="#6e6e6e"/>
<path d="M414.68 119.55l1.15 1.75-1.15 1.75-1.15-1.75z" fill="#6e6e6e"/>
<path d="M414.68 121.85l1.15 1.75-1.15 1.75-1.15-1.75z" fill="#6e6e6e"/>
<path d="M414.68 126.45l1.15 1.75-1.15 1.75-1.15-1.75z" fill="#6e6e6e"/>
<path d="M414.68 149.25l1.15 1.75-1.15 1.75-1.15-1.75z" fill="#6e6e6e"/>
<path d="M445.22 32.25l1.15 1.75-1.15 1.75-1.15-1.75z" fill="#6e6e6e"/>
<path d="M445.22 52.05l1.15 1.75-1.15 1.75-1.15-1.75z" fill="#6e6e6e"/>
<path d="M445.22 57.45l1.15 1.75-1.15 1.75-1.15-1.75z" fill="#6e6e6e"/>
<path d="M445.22 61.15l1.15 1.75-1.15 1.75-1.15-1.75z" fill="#6e6e6e"/>
<path d="M445.22 62.85l1.15 1.75-1.15 1.75-1.15-1.75z" fill="#6e6e6e"/>
<path d="M445.22 112.75l1.15 1.75-1.15 1.75-1.15-1.75z" fill="#6e6e6e"/>
<path d="M445.22 117.55l1.15 1.75-1.15 1.75-1.15-1.75z" fill="#6e6e6e"/>
<path d="M491.04 52.65l1.15 1.75-1.15 1.75-1.15-1.75z" fill="#6e6e6e"/>
<path d="M491.04 57.35l1.15 1.75-1.15 1.75-1.15-1.75z" fill="#6e6e6e"/>
<path d="M491.04 69.75l1.15 1.75-1.15 1.75-1.15-1.75z" fill="#6e6e6e"/>
<path d="M491.04 72.65l1.15 1.75-1.15 1.75-1.15-1.75z" fill="#6e6e6e"/>
<path d="M521.59 34.05l1.15 1.75-1.15 1.75-1.15-1.75z" fill="#6e6e6e"/>
<path d="M521.59 38.75l1.15 1.75-1.15 1.75-1.15-1.75z" fill="#6e6e6e"/>
<path d="M521.59 47.65l1.15 1.75-1.15 1.75-1.15-1.75z" fill="#6e6e6e"/>
<path d="M521.59 48.45l1.15 1.75-1.15 1.75-1.15-1.75z" fill="#6e6e6e"/>
<path d="M521.59 52.05l1.15 1.75-1.15 1.75-1.15-1.75z" fill="#6e6e6e"/>
<path d="M521.59 57.25l1.15 1.75-1.15 1.75-1.15-1.75z" fill="#6e6e6e"/>
<g fill="#1d5fb2">
<ellipse cx="331.5" cy="62.6" rx="0.85" ry="0.7"/>
<ellipse cx="333.5" cy="62.6" rx="0.85" ry="0.7"/>
<ellipse cx="335.5" cy="62.6" rx="0.85" ry="0.7"/>
<ellipse cx="337.5" cy="62.6" rx="0.85" ry="0.7"/>
<ellipse cx="339.5" cy="62.6" rx="0.85" ry="0.7"/>
<ellipse cx="341.5" cy="62.6" rx="0.85" ry="0.7"/>
<ellipse cx="343.5" cy="62.6" rx="0.85" ry="0.7"/>
<ellipse cx="345.5" cy="62.6" rx="0.85" ry="0.7"/>
<ellipse cx="324" cy="65" rx="0.85" ry="0.7"/>
<ellipse cx="326.04" cy="65" rx="0.85" ry="0.7"/>
<ellipse cx="328.07" cy="65" rx="0.85" ry="0.7"/>
<ellipse cx="330.11" cy="65" rx="0.85" ry="0.7"/>
<ellipse cx="332.14" cy="65" rx="0.85" ry="0.7"/>
<ellipse cx="334.18" cy="65" rx="0.85" ry="0.7"/>
<ellipse cx="336.21" cy="65" rx="0.85" ry="0.7"/>
<ellipse cx="338.25" cy="65" rx="0.85" ry="0.7"/>
<ellipse cx="340.29" cy="65" rx="0.85" ry="0.7"/>
<ellipse cx="342.32" cy="65" rx="0.85" ry="0.7"/>
<ellipse cx="344.36" cy="65" rx="0.85" ry="0.7"/>
<ellipse cx="346.39" cy="65" rx="0.85" ry="0.7"/>
<ellipse cx="348.43" cy="65" rx="0.85" ry="0.7"/>
<ellipse cx="350.46" cy="65" rx="0.85" ry="0.7"/>
<ellipse cx="352.5" cy="65" rx="0.85" ry="0.7"/>
<ellipse cx="336.5" cy="69.4" rx="0.85" ry="0.7"/>
<ellipse cx="338.5" cy="69.4" rx="0.85" ry="0.7"/>
<ellipse cx="340.5" cy="69.4" rx="0.85" ry="0.7"/>
<ellipse cx="326.5" cy="128.9" rx="0.85" ry="0.7"/>
<ellipse cx="328.54" cy="128.9" rx="0.85" ry="0.7"/>
<ellipse cx="330.58" cy="128.9" rx="0.85" ry="0.7"/>
<ellipse cx="332.62" cy="128.9" rx="0.85" ry="0.7"/>
<ellipse cx="334.67" cy="128.9" rx="0.85" ry="0.7"/>
<ellipse cx="336.71" cy="128.9" rx="0.85" ry="0.7"/>
<ellipse cx="338.75" cy="128.9" rx="0.85" ry="0.7"/>
<ellipse cx="340.79" cy="128.9" rx="0.85" ry="0.7"/>
<ellipse cx="342.83" cy="128.9" rx="0.85" ry="0.7"/>
<ellipse cx="344.88" cy="128.9" rx="0.85" ry="0.7"/>
<ellipse cx="346.92" cy="128.9" rx="0.85" ry="0.7"/>
<ellipse cx="348.96" cy="128.9" rx="0.85" ry="0.7"/>
<ellipse cx="351" cy="128.9" rx="0.85" ry="0.7"/>
<ellipse cx="323.5" cy="132.2" rx="0.85" ry="0.7"/>
<ellipse cx="333.17" cy="132.2" rx="0.85" ry="0.7"/>
<ellipse cx="342.83" cy="132.2" rx="0.85" ry="0.7"/>
<ellipse cx="352.5" cy="132.2" rx="0.85" ry="0.7"/>
<ellipse cx="331" cy="133" rx="0.85" ry="0.7"/>
<ellipse cx="333" cy="133" rx="0.85" ry="0.7"/>
<ellipse cx="335" cy="133" rx="0.85" ry="0.7"/>
<ellipse cx="337" cy="133" rx="0.85" ry="0.7"/>
<ellipse cx="339" cy="133" rx="0.85" ry="0.7"/>
<ellipse cx="341" cy="133" rx="0.85" ry="0.7"/>
<ellipse cx="343" cy="133" rx="0.85" ry="0.7"/>
<ellipse cx="345" cy="133" rx="0.85" ry="0.7"/>
<ellipse cx="348" cy="132.4" rx="0.85" ry="0.7"/>
<ellipse cx="350.25" cy="132.4" rx="0.85" ry="0.7"/>
<ellipse cx="352.5" cy="132.4" rx="0.85" ry="0.7"/>
<ellipse cx="323.5" cy="134.9" rx="0.85" ry="0.7"/>
<ellipse cx="325.5" cy="134.9" rx="0.85" ry="0.7"/>
<ellipse cx="327.5" cy="134.9" rx="0.85" ry="0.7"/>
<ellipse cx="329.5" cy="134.9" rx="0.85" ry="0.7"/>
<ellipse cx="331" cy="135.8" rx="0.85" ry="0.7"/>
<ellipse cx="333.14" cy="135.8" rx="0.85" ry="0.7"/>
<ellipse cx="335.29" cy="135.8" rx="0.85" ry="0.7"/>
<ellipse cx="337.43" cy="135.8" rx="0.85" ry="0.7"/>
<ellipse cx="339.57" cy="135.8" rx="0.85" ry="0.7"/>
<ellipse cx="341.71" cy="135.8" rx="0.85" ry="0.7"/>
<ellipse cx="343.86" cy="135.8" rx="0.85" ry="0.7"/>
<ellipse cx="346" cy="135.8" rx="0.85" ry="0.7"/>
<ellipse cx="348" cy="134.9" rx="0.85" ry="0.7"/>
<ellipse cx="350.25" cy="134.9" rx="0.85" ry="0.7"/>
<ellipse cx="352.5" cy="134.9" rx="0.85" ry="0.7"/>
</g>
<g fill="#f36c2e">
<ellipse cx="368.86" cy="135.3" rx="0.85" ry="0.85"/>
<ellipse cx="366.88" cy="134.97" rx="0.85" ry="0.85"/>
<ellipse cx="370.74" cy="134.63" rx="0.85" ry="0.85"/>
<ellipse cx="365" cy="134.3" rx="0.85" ry="0.85"/>
<ellipse cx="368.86" cy="132.2" rx="0.85" ry="0.85"/>
<ellipse cx="366.87" cy="132" rx="0.85" ry="0.85"/>
<ellipse cx="368.86" cy="130" rx="0.85" ry="0.85"/>
<ellipse cx="367.43" cy="128.6" rx="0.85" ry="0.85"/>
<ellipse cx="355" cy="62.5" rx="0.85" ry="0.7"/>
<ellipse cx="357" cy="62.5" rx="0.85" ry="0.7"/>
<ellipse cx="359" cy="62.5" rx="0.85" ry="0.7"/>
<ellipse cx="361" cy="62.5" rx="0.85" ry="0.7"/>
<ellipse cx="363" cy="62.5" rx="0.85" ry="0.7"/>
<ellipse cx="365" cy="62.5" rx="0.85" ry="0.7"/>
<ellipse cx="367" cy="62.5" rx="0.85" ry="0.7"/>
<ellipse cx="369" cy="62.5" rx="0.85" ry="0.7"/>
<ellipse cx="371" cy="62.5" rx="0.85" ry="0.7"/>
<ellipse cx="373" cy="62.5" rx="0.85" ry="0.7"/>
<ellipse cx="375" cy="62.5" rx="0.85" ry="0.7"/>
<ellipse cx="377" cy="62.5" rx="0.85" ry="0.7"/>
<ellipse cx="379" cy="62.5" rx="0.85" ry="0.7"/>
<ellipse cx="381" cy="62.5" rx="0.85" ry="0.7"/>
<ellipse cx="383" cy="62.5" rx="0.85" ry="0.7"/>
<ellipse cx="355" cy="64.8" rx="0.85" ry="0.7"/>
<ellipse cx="357" cy="64.8" rx="0.85" ry="0.7"/>
<ellipse cx="359" cy="64.8" rx="0.85" ry="0.7"/>
<ellipse cx="361" cy="64.8" rx="0.85" ry="0.7"/>
<ellipse cx="363" cy="64.8" rx="0.85" ry="0.7"/>
<ellipse cx="365" cy="64.8" rx="0.85" ry="0.7"/>
<ellipse cx="367" cy="64.8" rx="0.85" ry="0.7"/>
<ellipse cx="369" cy="64.8" rx="0.85" ry="0.7"/>
<ellipse cx="371" cy="64.8" rx="0.85" ry="0.7"/>
<ellipse cx="373" cy="64.8" rx="0.85" ry="0.7"/>
<ellipse cx="375" cy="64.8" rx="0.85" ry="0.7"/>
<ellipse cx="377" cy="64.8" rx="0.85" ry="0.7"/>
<ellipse cx="379" cy="64.8" rx="0.85" ry="0.7"/>
<ellipse cx="381" cy="64.8" rx="0.85" ry="0.7"/>
<ellipse cx="383" cy="64.8" rx="0.85" ry="0.7"/>
<ellipse cx="355" cy="66" rx="0.85" ry="0.7"/>
<ellipse cx="357" cy="66" rx="0.85" ry="0.7"/>
<ellipse cx="359" cy="66" rx="0.85" ry="0.7"/>
<ellipse cx="361" cy="66" rx="0.85" ry="0.7"/>
<ellipse cx="363" cy="66" rx="0.85" ry="0.7"/>
<ellipse cx="365" cy="66" rx="0.85" ry="0.7"/>
<ellipse cx="367" cy="66" rx="0.85" ry="0.7"/>
<ellipse cx="369" cy="66" rx="0.85" ry="0.7"/>
<ellipse cx="371" cy="66" rx="0.85" ry="0.7"/>
<ellipse cx="373" cy="66" rx="0.85" ry="0.7"/>
<ellipse cx="375" cy="66" rx="0.85" ry="0.7"/>
<ellipse cx="377" cy="66" rx="0.85" ry="0.7"/>
<ellipse cx="379" cy="66" rx="0.85" ry="0.7"/>
<ellipse cx="381" cy="66" rx="0.85" ry="0.7"/>
<ellipse cx="383" cy="66" rx="0.85" ry="0.7"/>
<ellipse cx="355" cy="69.1" rx="0.85" ry="0.7"/>
<ellipse cx="357" cy="69.1" rx="0.85" ry="0.7"/>
<ellipse cx="359" cy="69.1" rx="0.85" ry="0.7"/>
<ellipse cx="361" cy="69.1" rx="0.85" ry="0.7"/>
<ellipse cx="363" cy="69.1" rx="0.85" ry="0.7"/>
<ellipse cx="365" cy="69.1" rx="0.85" ry="0.7"/>
<ellipse cx="367" cy="69.1" rx="0.85" ry="0.7"/>
<ellipse cx="369" cy="69.1" rx="0.85" ry="0.7"/>
<ellipse cx="371" cy="69.1" rx="0.85" ry="0.7"/>
<ellipse cx="373" cy="69.1" rx="0.85" ry="0.7"/>
<ellipse cx="375" cy="69.1" rx="0.85" ry="0.7"/>
<ellipse cx="377" cy="69.1" rx="0.85" ry="0.7"/>
<ellipse cx="379" cy="69.1" rx="0.85" ry="0.7"/>
<ellipse cx="381" cy="69.1" rx="0.85" ry="0.7"/>
<ellipse cx="383" cy="69.1" rx="0.85" ry="0.7"/>
<ellipse cx="355" cy="63" rx="0.85" ry="0.7"/>
<ellipse cx="355" cy="65.17" rx="0.85" ry="0.7"/>
<ellipse cx="355" cy="67.33" rx="0.85" ry="0.7"/>
<ellipse cx="355" cy="69.5" rx="0.85" ry="0.7"/>
<ellipse cx="383" cy="63" rx="0.85" ry="0.7"/>
<ellipse cx="383" cy="65.17" rx="0.85" ry="0.7"/>
<ellipse cx="383" cy="67.33" rx="0.85" ry="0.7"/>
<ellipse cx="383" cy="69.5" rx="0.85" ry="0.7"/>
</g>
<g fill="#1d5fb2">
<ellipse cx="414.68" cy="151" rx="0.85" ry="0.85"/>
<ellipse cx="414.68" cy="128.2" rx="0.85" ry="0.85"/>
<ellipse cx="414.68" cy="123.6" rx="0.85" ry="0.85"/>
<ellipse cx="414.68" cy="121.3" rx="0.85" ry="0.85"/>
<ellipse cx="414.68" cy="116.8" rx="0.85" ry="0.85"/>
<ellipse cx="414.68" cy="111.4" rx="0.85" ry="0.85"/>
<ellipse cx="412.69" cy="111.2" rx="0.85" ry="0.85"/>
<ellipse cx="414.68" cy="108.8" rx="0.85" ry="0.85"/>
<ellipse cx="412.69" cy="108.6" rx="0.85" ry="0.85"/>
<ellipse cx="415.55" cy="107" rx="0.85" ry="0.85"/>
<ellipse cx="414.68" cy="103.4" rx="0.85" ry="0.85"/>
<ellipse cx="412.68" cy="103.25" rx="0.85" ry="0.85"/>
<ellipse cx="416.65" cy="103.1" rx="0.85" ry="0.85"/>
<ellipse cx="414.68" cy="100.9" rx="0.85" ry="0.85"/>
<ellipse cx="412.69" cy="100.7" rx="0.85" ry="0.85"/>
<ellipse cx="416.35" cy="99.8" rx="0.85" ry="0.85"/>
<ellipse cx="418.34" cy="99.67" rx="0.85" ry="0.85"/>
<ellipse cx="411.06" cy="99.53" rx="0.85" ry="0.85"/>
<ellipse cx="409.07" cy="99.4" rx="0.85" ry="0.85"/>
<ellipse cx="414.68" cy="98.6" rx="0.85" ry="0.85"/>
<ellipse cx="419.95" cy="98.48" rx="0.85" ry="0.85"/>
<ellipse cx="412.69" cy="98.37" rx="0.85" ry="0.85"/>
<ellipse cx="407.43" cy="98.25" rx="0.85" ry="0.85"/>
<ellipse cx="421.92" cy="98.13" rx="0.85" ry="0.85"/>
<ellipse cx="405.44" cy="98.02" rx="0.85" ry="0.85"/>
<ellipse cx="416.97" cy="97.9" rx="0.85" ry="0.85"/>
<ellipse cx="411" cy="97.3" rx="0.85" ry="0.85"/>
<ellipse cx="423.69" cy="97.2" rx="0.85" ry="0.85"/>
<ellipse cx="403.67" cy="97.1" rx="0.85" ry="0.85"/>
<ellipse cx="409.02" cy="97" rx="0.85" ry="0.85"/>
<ellipse cx="418.7" cy="96.9" rx="0.85" ry="0.85"/>
<ellipse cx="425.65" cy="96.8" rx="0.85" ry="0.85"/>
<ellipse cx="414.05" cy="96.7" rx="0.85" ry="0.85"/>
<ellipse cx="401.73" cy="96.6" rx="0.85" ry="0.85"/>
<ellipse cx="420.66" cy="96.5" rx="0.85" ry="0.85"/>
<ellipse cx="406.67" cy="96.4" rx="0.85" ry="0.85"/>
<ellipse cx="427.59" cy="96.3" rx="0.85" ry="0.85"/>
<ellipse cx="429.59" cy="96.3" rx="0.85" ry="0.85"/>
<ellipse cx="399.77" cy="96.21" rx="0.85" ry="0.85"/>
<ellipse cx="399.71" cy="96.2" rx="0.85" ry="0.85"/>
<ellipse cx="415.96" cy="96.12" rx="0.85" ry="0.85"/>
<ellipse cx="429.64" cy="96.1" rx="0.85" ry="0.85"/>
<ellipse cx="399.71" cy="96.02" rx="0.85" ry="0.85"/>
<ellipse cx="429.64" cy="95.93" rx="0.85" ry="0.85"/>
<ellipse cx="399.71" cy="95.84" rx="0.85" ry="0.85"/>
<ellipse cx="412.29" cy="95.75" rx="0.85" ry="0.85"/>
<ellipse cx="429.64" cy="95.65" rx="0.85" ry="0.85"/>
<ellipse cx="422.43" cy="95.56" rx="0.85" ry="0.85"/>
<ellipse cx="404.9" cy="95.47" rx="0.85" ry="0.85"/>
<ellipse cx="410.33" cy="95.38" rx="0.85" ry="0.85"/>
<ellipse cx="399.71" cy="95.28" rx="0.85" ry="0.85"/>
<ellipse cx="424.39" cy="95.19" rx="0.85" ry="0.85"/>
<ellipse cx="417.69" cy="95.1" rx="0.85" ry="0.85"/>
<ellipse cx="408.36" cy="95" rx="0.85" ry="0.85"/>
<ellipse cx="402.97" cy="94.93" rx="0.85" ry="0.85"/>
<ellipse cx="429.64" cy="94.86" rx="0.85" ry="0.85"/>
<ellipse cx="399.71" cy="94.79" rx="0.85" ry="0.85"/>
<ellipse cx="414.54" cy="94.71" rx="0.85" ry="0.85"/>
<ellipse cx="419.63" cy="94.64" rx="0.85" ry="0.85"/>
<ellipse cx="426.3" cy="94.57" rx="0.85" ry="0.85"/>
<ellipse cx="429.64" cy="94.5" rx="0.85" ry="0.85"/>
<ellipse cx="399.71" cy="94.43" rx="0.85" ry="0.85"/>
<ellipse cx="429.64" cy="94.36" rx="0.85" ry="0.85"/>
<ellipse cx="399.71" cy="94.29" rx="0.85" ry="0.85"/>
<ellipse cx="406.53" cy="94.21" rx="0.85" ry="0.85"/>
<ellipse cx="429.64" cy="94.14" rx="0.85" ry="0.85"/>
<ellipse cx="399.71" cy="94.07" rx="0.85" ry="0.85"/>
<ellipse cx="429.64" cy="94" rx="0.85" ry="0.85"/>
<ellipse cx="416.05" cy="93.4" rx="0.85" ry="0.85"/>
<ellipse cx="413.18" cy="93.25" rx="0.85" ry="0.85"/>
<ellipse cx="418.02" cy="93.1" rx="0.85" ry="0.85"/>
<ellipse cx="411.54" cy="92.1" rx="0.85" ry="0.85"/>
<ellipse cx="419.66" cy="91.95" rx="0.85" ry="0.85"/>
<ellipse cx="414.68" cy="91.8" rx="0.85" ry="0.85"/>
<ellipse cx="413.16" cy="90.5" rx="0.85" ry="0.85"/>
<ellipse cx="416.05" cy="90.35" rx="0.85" ry="0.85"/>
<ellipse cx="418.05" cy="90.2" rx="0.85" ry="0.85"/>
<ellipse cx="411.64" cy="89.2" rx="0.85" ry="0.85"/>
<ellipse cx="414.63" cy="88.95" rx="0.85" ry="0.85"/>
<ellipse cx="419.37" cy="88.7" rx="0.85" ry="0.85"/>
<ellipse cx="416.68" cy="88.45" rx="0.85" ry="0.85"/>
<ellipse cx="409.8" cy="88.4" rx="0.85" ry="0.85"/>
<ellipse cx="421.32" cy="88.25" rx="0.85" ry="0.85"/>
<ellipse cx="407.81" cy="88.2" rx="0.85" ry="0.85"/>
<ellipse cx="423.31" cy="88.1" rx="0.85" ry="0.85"/>
<ellipse cx="414.68" cy="86.7" rx="0.85" ry="0.85"/>
<ellipse cx="413.08" cy="85.5" rx="0.85" ry="0.85"/>
<ellipse cx="414.68" cy="84" rx="0.85" ry="0.85"/>
<ellipse cx="416.67" cy="83.85" rx="0.85" ry="0.85"/>
<ellipse cx="412.2" cy="83.7" rx="0.85" ry="0.85"/>
<ellipse cx="418.48" cy="83" rx="0.85" ry="0.85"/>
<ellipse cx="410.42" cy="82.8" rx="0.85" ry="0.85"/>
<ellipse cx="414.68" cy="81.7" rx="0.85" ry="0.85"/>
<ellipse cx="414.68" cy="78.8" rx="0.85" ry="0.85"/>
<ellipse cx="413.8" cy="77" rx="0.85" ry="0.85"/>
<ellipse cx="414.68" cy="72.2" rx="0.85" ry="0.85"/>
<ellipse cx="412.69" cy="72" rx="0.85" ry="0.85"/>
<ellipse cx="414.68" cy="67.9" rx="0.85" ry="0.85"/>
</g>
<g fill="#f36c2e">
<ellipse cx="445.22" cy="119.3" rx="0.85" ry="0.85"/>
<ellipse cx="445.22" cy="114.5" rx="0.85" ry="0.85"/>
<ellipse cx="443.23" cy="114.3" rx="0.85" ry="0.85"/>
<ellipse cx="445.22" cy="98" rx="0.85" ry="0.85"/>
<ellipse cx="443.31" cy="97.42" rx="0.85" ry="0.85"/>
<ellipse cx="446.85" cy="96.83" rx="0.85" ry="0.85"/>
<ellipse cx="441.69" cy="96.25" rx="0.85" ry="0.85"/>
<ellipse cx="445.08" cy="95.9" rx="0.85" ry="0.85"/>
<ellipse cx="448.47" cy="95.67" rx="0.85" ry="0.85"/>
<ellipse cx="450.47" cy="95.57" rx="0.85" ry="0.85"/>
<ellipse cx="439.96" cy="95.23" rx="0.85" ry="0.85"/>
<ellipse cx="452.41" cy="95.08" rx="0.85" ry="0.85"/>
<ellipse cx="443.35" cy="94.9" rx="0.85" ry="0.85"/>
<ellipse cx="446.57" cy="94.57" rx="0.85" ry="0.85"/>
<ellipse cx="438.1" cy="94.5" rx="0.85" ry="0.85"/>
<ellipse cx="454.22" cy="94.23" rx="0.85" ry="0.85"/>
<ellipse cx="441.61" cy="93.9" rx="0.85" ry="0.85"/>
<ellipse cx="444.84" cy="93.57" rx="0.85" ry="0.85"/>
<ellipse cx="448.26" cy="93.5" rx="0.85" ry="0.85"/>
<ellipse cx="450.25" cy="93.3" rx="0.85" ry="0.85"/>
<ellipse cx="439.73" cy="93.23" rx="0.85" ry="0.85"/>
<ellipse cx="452.21" cy="92.9" rx="0.85" ry="0.85"/>
<ellipse cx="443.11" cy="92.57" rx="0.85" ry="0.85"/>
<ellipse cx="446.53" cy="92.5" rx="0.85" ry="0.85"/>
<ellipse cx="437.96" cy="92.3" rx="0.85" ry="0.85"/>
<ellipse cx="454.1" cy="92.23" rx="0.85" ry="0.85"/>
<ellipse cx="441.22" cy="91.9" rx="0.85" ry="0.85"/>
<ellipse cx="445.21" cy="91" rx="0.85" ry="0.85"/>
<ellipse cx="447.58" cy="90.8" rx="0.85" ry="0.85"/>
<ellipse cx="443.61" cy="89.8" rx="0.85" ry="0.85"/>
<ellipse cx="441.62" cy="89.58" rx="0.85" ry="0.85"/>
<ellipse cx="448.96" cy="89.35" rx="0.85" ry="0.85"/>
<ellipse cx="445.9" cy="89.12" rx="0.85" ry="0.85"/>
<ellipse cx="439.74" cy="88.9" rx="0.85" ry="0.85"/>
<ellipse cx="450.84" cy="88.67" rx="0.85" ry="0.85"/>
<ellipse cx="437.79" cy="88.45" rx="0.85" ry="0.85"/>
<ellipse cx="452.79" cy="88.22" rx="0.85" ry="0.85"/>
<ellipse cx="435.84" cy="88" rx="0.85" ry="0.85"/>
<ellipse cx="444.61" cy="87.6" rx="0.85" ry="0.85"/>
<ellipse cx="446.72" cy="87.3" rx="0.85" ry="0.85"/>
<ellipse cx="442.7" cy="87" rx="0.85" ry="0.85"/>
<ellipse cx="448.63" cy="86.7" rx="0.85" ry="0.85"/>
<ellipse cx="440.79" cy="86.4" rx="0.85" ry="0.85"/>
<ellipse cx="450.54" cy="86.1" rx="0.85" ry="0.85"/>
<ellipse cx="438.83" cy="86" rx="0.85" ry="0.85"/>
<ellipse cx="452.51" cy="85.8" rx="0.85" ry="0.85"/>
<ellipse cx="445.22" cy="84.4" rx="0.85" ry="0.85"/>
<ellipse cx="443.26" cy="84.03" rx="0.85" ry="0.85"/>
<ellipse cx="447.08" cy="83.67" rx="0.85" ry="0.85"/>
<ellipse cx="441.4" cy="83.3" rx="0.85" ry="0.85"/>
<ellipse cx="448.97" cy="83" rx="0.85" ry="0.85"/>
<ellipse cx="450.97" cy="82.93" rx="0.85" ry="0.85"/>
<ellipse cx="439.54" cy="82.57" rx="0.85" ry="0.85"/>
<ellipse cx="445.22" cy="82.2" rx="0.85" ry="0.85"/>
<ellipse cx="443.26" cy="81.8" rx="0.85" ry="0.85"/>
<ellipse cx="447.07" cy="81.42" rx="0.85" ry="0.85"/>
<ellipse cx="441.41" cy="81.05" rx="0.85" ry="0.85"/>
<ellipse cx="448.92" cy="80.67" rx="0.85" ry="0.85"/>
<ellipse cx="450.91" cy="80.5" rx="0.85" ry="0.85"/>
<ellipse cx="444.6" cy="80.3" rx="0.85" ry="0.85"/>
<ellipse cx="446.12" cy="79" rx="0.85" ry="0.85"/>
<ellipse cx="444.8" cy="77.5" rx="0.85" ry="0.85"/>
<ellipse cx="445.85" cy="75.8" rx="0.85" ry="0.85"/>
<ellipse cx="444.65" cy="74.2" rx="0.85" ry="0.85"/>
<ellipse cx="445.22" cy="72" rx="0.85" ry="0.85"/>
<ellipse cx="445.22" cy="68.6" rx="0.85" ry="0.85"/>
<ellipse cx="444.02" cy="67" rx="0.85" ry="0.85"/>
<ellipse cx="446.1" cy="66.8" rx="0.85" ry="0.85"/>
<ellipse cx="445.22" cy="64.6" rx="0.85" ry="0.85"/>
<ellipse cx="444.17" cy="62.9" rx="0.85" ry="0.85"/>
<ellipse cx="445.22" cy="59.2" rx="0.85" ry="0.85"/>
<ellipse cx="445.22" cy="53.8" rx="0.85" ry="0.85"/>
<ellipse cx="445.22" cy="34" rx="0.85" ry="0.85"/>
</g>
<g fill="#1d5fb2">
<ellipse cx="491.04" cy="109.1" rx="0.85" ry="0.85"/>
<ellipse cx="489.84" cy="107.5" rx="0.85" ry="0.85"/>
<ellipse cx="491.92" cy="107.3" rx="0.85" ry="0.85"/>
<ellipse cx="493.7" cy="106.4" rx="0.85" ry="0.85"/>
<ellipse cx="488.28" cy="106.25" rx="0.85" ry="0.85"/>
<ellipse cx="495.68" cy="106.1" rx="0.85" ry="0.85"/>
<ellipse cx="491.04" cy="105.3" rx="0.85" ry="0.85"/>
<ellipse cx="486.61" cy="105.15" rx="0.85" ry="0.85"/>
<ellipse cx="497.35" cy="105" rx="0.85" ry="0.85"/>
<ellipse cx="489.62" cy="103.9" rx="0.85" ry="0.85"/>
<ellipse cx="492.33" cy="103.77" rx="0.85" ry="0.85"/>
<ellipse cx="494.32" cy="103.63" rx="0.85" ry="0.85"/>
<ellipse cx="485.48" cy="103.5" rx="0.85" ry="0.85"/>
<ellipse cx="487.88" cy="102.9" rx="0.85" ry="0.85"/>
<ellipse cx="496.13" cy="102.78" rx="0.85" ry="0.85"/>
<ellipse cx="498.13" cy="102.65" rx="0.85" ry="0.85"/>
<ellipse cx="483.74" cy="102.53" rx="0.85" ry="0.85"/>
<ellipse cx="500.11" cy="102.4" rx="0.85" ry="0.85"/>
<ellipse cx="491.04" cy="101.7" rx="0.85" ry="0.85"/>
<ellipse cx="493.04" cy="101.58" rx="0.85" ry="0.85"/>
<ellipse cx="486.51" cy="101.45" rx="0.85" ry="0.85"/>
<ellipse cx="482.14" cy="101.33" rx="0.85" ry="0.85"/>
<ellipse cx="489.11" cy="101.2" rx="0.85" ry="0.85"/>
<ellipse cx="494.27" cy="100" rx="0.85" ry="0.85"/>
<ellipse cx="491.87" cy="99.88" rx="0.85" ry="0.85"/>
<ellipse cx="487.72" cy="99.76" rx="0.85" ry="0.85"/>
<ellipse cx="496.24" cy="99.64" rx="0.85" ry="0.85"/>
<ellipse cx="485.73" cy="99.52" rx="0.85" ry="0.85"/>
<ellipse cx="498.22" cy="99.4" rx="0.85" ry="0.85"/>
<ellipse cx="490.03" cy="99.1" rx="0.85" ry="0.85"/>
<ellipse cx="483.81" cy="98.97" rx="0.85" ry="0.85"/>
<ellipse cx="500.15" cy="98.85" rx="0.85" ry="0.85"/>
<ellipse cx="481.82" cy="98.72" rx="0.85" ry="0.85"/>
<ellipse cx="502.13" cy="98.6" rx="0.85" ry="0.85"/>
<ellipse cx="479.84" cy="98.47" rx="0.85" ry="0.85"/>
<ellipse cx="504.12" cy="98.35" rx="0.85" ry="0.85"/>
<ellipse cx="493" cy="98.22" rx="0.85" ry="0.85"/>
<ellipse cx="477.86" cy="98.2" rx="0.85" ry="0.85"/>
<ellipse cx="506.01" cy="98.1" rx="0.85" ry="0.85"/>
<ellipse cx="476.08" cy="98.08" rx="0.85" ry="0.85"/>
<ellipse cx="494.98" cy="97.97" rx="0.85" ry="0.85"/>
<ellipse cx="488.47" cy="97.85" rx="0.85" ry="0.85"/>
<ellipse cx="496.97" cy="97.73" rx="0.85" ry="0.85"/>
<ellipse cx="486.48" cy="97.62" rx="0.85" ry="0.85"/>
<ellipse cx="506.01" cy="97.5" rx="0.85" ry="0.85"/>
<ellipse cx="491.04" cy="96.4" rx="0.85" ry="0.85"/>
<ellipse cx="493.46" cy="96.28" rx="0.85" ry="0.85"/>
<ellipse cx="485.11" cy="96.16" rx="0.85" ry="0.85"/>
<ellipse cx="495.52" cy="96.04" rx="0.85" ry="0.85"/>
<ellipse cx="489.1" cy="95.92" rx="0.85" ry="0.85"/>
<ellipse cx="497.5" cy="95.8" rx="0.85" ry="0.85"/>
<ellipse cx="487.15" cy="95.5" rx="0.85" ry="0.85"/>
<ellipse cx="483.31" cy="95.3" rx="0.85" ry="0.85"/>
<ellipse cx="499.37" cy="95.1" rx="0.85" ry="0.85"/>
<ellipse cx="481.35" cy="94.9" rx="0.85" ry="0.85"/>
<ellipse cx="492.1" cy="94.7" rx="0.85" ry="0.85"/>
<ellipse cx="501.31" cy="94.6" rx="0.85" ry="0.85"/>
<ellipse cx="479.39" cy="94.5" rx="0.85" ry="0.85"/>
<ellipse cx="503.31" cy="94.47" rx="0.85" ry="0.85"/>
<ellipse cx="494.06" cy="94.33" rx="0.85" ry="0.85"/>
<ellipse cx="477.4" cy="94.3" rx="0.85" ry="0.85"/>
<ellipse cx="490.16" cy="94.2" rx="0.85" ry="0.85"/>
<ellipse cx="488.22" cy="93.7" rx="0.85" ry="0.85"/>
<ellipse cx="486.23" cy="93.58" rx="0.85" ry="0.85"/>
<ellipse cx="495.86" cy="93.45" rx="0.85" ry="0.85"/>
<ellipse cx="484.24" cy="93.33" rx="0.85" ry="0.85"/>
<ellipse cx="497.84" cy="93.2" rx="0.85" ry="0.85"/>
<ellipse cx="491.04" cy="92.4" rx="0.85" ry="0.85"/>
<ellipse cx="493.04" cy="92.27" rx="0.85" ry="0.85"/>
<ellipse cx="482.64" cy="92.13" rx="0.85" ry="0.85"/>
<ellipse cx="499.44" cy="92" rx="0.85" ry="0.85"/>
<ellipse cx="490.42" cy="90.5" rx="0.85" ry="0.85"/>
<ellipse cx="492.4" cy="90.26" rx="0.85" ry="0.85"/>
<ellipse cx="488.48" cy="90.02" rx="0.85" ry="0.85"/>
<ellipse cx="494.35" cy="89.78" rx="0.85" ry="0.85"/>
<ellipse cx="486.54" cy="89.54" rx="0.85" ry="0.85"/>
<ellipse cx="496.29" cy="89.3" rx="0.85" ry="0.85"/>
<ellipse cx="484.64" cy="88.9" rx="0.85" ry="0.85"/>
<ellipse cx="498.21" cy="88.75" rx="0.85" ry="0.85"/>
<ellipse cx="491.04" cy="88.6" rx="0.85" ry="0.85"/>
<ellipse cx="489.72" cy="87.1" rx="0.85" ry="0.85"/>
<ellipse cx="492.17" cy="86.95" rx="0.85" ry="0.85"/>
<ellipse cx="494.17" cy="86.8" rx="0.85" ry="0.85"/>
<ellipse cx="487.93" cy="86.2" rx="0.85" ry="0.85"/>
<ellipse cx="495.95" cy="85.9" rx="0.85" ry="0.85"/>
<ellipse cx="486.03" cy="85.6" rx="0.85" ry="0.85"/>
<ellipse cx="491.04" cy="85.3" rx="0.85" ry="0.85"/>
<ellipse cx="493.02" cy="85" rx="0.85" ry="0.85"/>
<ellipse cx="489.26" cy="84.4" rx="0.85" ry="0.85"/>
<ellipse cx="491.04" cy="82.7" rx="0.85" ry="0.85"/>
<ellipse cx="489.99" cy="81" rx="0.85" ry="0.85"/>
<ellipse cx="491.04" cy="79.3" rx="0.85" ry="0.85"/>
<ellipse cx="491.04" cy="76.4" rx="0.85" ry="0.85"/>
<ellipse cx="489.05" cy="76.2" rx="0.85" ry="0.85"/>
<ellipse cx="491.04" cy="74.4" rx="0.85" ry="0.85"/>
<ellipse cx="491.04" cy="71.5" rx="0.85" ry="0.85"/>
<ellipse cx="491.04" cy="59.1" rx="0.85" ry="0.85"/>
<ellipse cx="491.04" cy="54.4" rx="0.85" ry="0.85"/>
</g>
<g fill="#f36c2e">
<ellipse cx="521.59" cy="108" rx="0.85" ry="0.85"/>
<ellipse cx="521.59" cy="104.6" rx="0.85" ry="0.85"/>
<ellipse cx="520.72" cy="102.8" rx="0.85" ry="0.85"/>
<ellipse cx="522.71" cy="102.6" rx="0.85" ry="0.85"/>
<ellipse cx="519.85" cy="101" rx="0.85" ry="0.85"/>
<ellipse cx="521.82" cy="100.67" rx="0.85" ry="0.85"/>
<ellipse cx="523.79" cy="100.33" rx="0.85" ry="0.85"/>
<ellipse cx="518.11" cy="100" rx="0.85" ry="0.85"/>
<ellipse cx="521.59" cy="97.9" rx="0.85" ry="0.85"/>
<ellipse cx="519.6" cy="97.75" rx="0.85" ry="0.85"/>
<ellipse cx="523.57" cy="97.6" rx="0.85" ry="0.85"/>
<ellipse cx="518.47" cy="96.1" rx="0.85" ry="0.85"/>
<ellipse cx="521.03" cy="95.98" rx="0.85" ry="0.85"/>
<ellipse cx="524.55" cy="95.86" rx="0.85" ry="0.85"/>
<ellipse cx="526.55" cy="95.74" rx="0.85" ry="0.85"/>
<ellipse cx="516.52" cy="95.62" rx="0.85" ry="0.85"/>
<ellipse cx="528.54" cy="95.5" rx="0.85" ry="0.85"/>
<ellipse cx="522.48" cy="94.6" rx="0.85" ry="0.85"/>
<ellipse cx="519.73" cy="94.46" rx="0.85" ry="0.85"/>
<ellipse cx="515" cy="94.33" rx="0.85" ry="0.85"/>
<ellipse cx="530.05" cy="94.19" rx="0.85" ry="0.85"/>
<ellipse cx="525.41" cy="94.05" rx="0.85" ry="0.85"/>
<ellipse cx="517.8" cy="93.92" rx="0.85" ry="0.85"/>
<ellipse cx="527.4" cy="93.78" rx="0.85" ry="0.85"/>
<ellipse cx="513.12" cy="93.65" rx="0.85" ry="0.85"/>
<ellipse cx="531.93" cy="93.51" rx="0.85" ry="0.85"/>
<ellipse cx="511.14" cy="93.37" rx="0.85" ry="0.85"/>
<ellipse cx="533.91" cy="93.24" rx="0.85" ry="0.85"/>
<ellipse cx="509.15" cy="93.1" rx="0.85" ry="0.85"/>
<ellipse cx="521.28" cy="93" rx="0.85" ry="0.85"/>
<ellipse cx="523.5" cy="92.88" rx="0.85" ry="0.85"/>
<ellipse cx="535.85" cy="92.77" rx="0.85" ry="0.85"/>
<ellipse cx="516.26" cy="92.65" rx="0.85" ry="0.85"/>
<ellipse cx="507.24" cy="92.53" rx="0.85" ry="0.85"/>
<ellipse cx="519.36" cy="92.42" rx="0.85" ry="0.85"/>
<ellipse cx="528.74" cy="92.3" rx="0.85" ry="0.85"/>
<ellipse cx="525.18" cy="91.8" rx="0.85" ry="0.85"/>
<ellipse cx="514.59" cy="91.54" rx="0.85" ry="0.85"/>
<ellipse cx="530.46" cy="91.29" rx="0.85" ry="0.85"/>
<ellipse cx="521.61" cy="91.03" rx="0.85" ry="0.85"/>
<ellipse cx="518.23" cy="90.77" rx="0.85" ry="0.85"/>
<ellipse cx="523.55" cy="90.51" rx="0.85" ry="0.85"/>
<ellipse cx="526.46" cy="90.26" rx="0.85" ry="0.85"/>
<ellipse cx="516.38" cy="90" rx="0.85" ry="0.85"/>
<ellipse cx="521.59" cy="89" rx="0.85" ry="0.85"/>
<ellipse cx="519.59" cy="88.88" rx="0.85" ry="0.85"/>
<ellipse cx="524.49" cy="88.75" rx="0.85" ry="0.85"/>
<ellipse cx="527.61" cy="88.62" rx="0.85" ry="0.85"/>
<ellipse cx="515.06" cy="88.5" rx="0.85" ry="0.85"/>
<ellipse cx="522.91" cy="87.5" rx="0.85" ry="0.85"/>
<ellipse cx="518.27" cy="87.38" rx="0.85" ry="0.85"/>
<ellipse cx="525.82" cy="87.26" rx="0.85" ry="0.85"/>
<ellipse cx="520.85" cy="87.14" rx="0.85" ry="0.85"/>
<ellipse cx="528.81" cy="87.02" rx="0.85" ry="0.85"/>
<ellipse cx="516.32" cy="86.9" rx="0.85" ry="0.85"/>
<ellipse cx="514.42" cy="86.3" rx="0.85" ry="0.85"/>
<ellipse cx="524.24" cy="86" rx="0.85" ry="0.85"/>
<ellipse cx="519.47" cy="85.7" rx="0.85" ry="0.85"/>
<ellipse cx="521.84" cy="85.4" rx="0.85" ry="0.85"/>
<ellipse cx="517.56" cy="85.1" rx="0.85" ry="0.85"/>
<ellipse cx="525.84" cy="84.8" rx="0.85" ry="0.85"/>
<ellipse cx="515.65" cy="84.5" rx="0.85" ry="0.85"/>
<ellipse cx="527.77" cy="84.3" rx="0.85" ry="0.85"/>
<ellipse cx="521.59" cy="83.3" rx="0.85" ry="0.85"/>
<ellipse cx="519.6" cy="83.15" rx="0.85" ry="0.85"/>
<ellipse cx="523.57" cy="83" rx="0.85" ry="0.85"/>
<ellipse cx="521.59" cy="80.8" rx="0.85" ry="0.85"/>
<ellipse cx="519.6" cy="80.65" rx="0.85" ry="0.85"/>
<ellipse cx="523.57" cy="80.5" rx="0.85" ry="0.85"/>
<ellipse cx="518.47" cy="79" rx="0.85" ry="0.85"/>
<ellipse cx="521.15" cy="78.85" rx="0.85" ry="0.85"/>
<ellipse cx="524.44" cy="78.7" rx="0.85" ry="0.85"/>
<ellipse cx="522.28" cy="77.2" rx="0.85" ry="0.85"/>
<ellipse cx="520.3" cy="76.9" rx="0.85" ry="0.85"/>
<ellipse cx="524.18" cy="76.6" rx="0.85" ry="0.85"/>
<ellipse cx="518.39" cy="76.3" rx="0.85" ry="0.85"/>
<ellipse cx="526.09" cy="76" rx="0.85" ry="0.85"/>
<ellipse cx="521.59" cy="74.7" rx="0.85" ry="0.85"/>
<ellipse cx="519.6" cy="74.5" rx="0.85" ry="0.85"/>
<ellipse cx="522.46" cy="72.9" rx="0.85" ry="0.85"/>
<ellipse cx="521.59" cy="71" rx="0.85" ry="0.85"/>
<ellipse cx="521.59" cy="68.8" rx="0.85" ry="0.85"/>
<ellipse cx="521.59" cy="59" rx="0.85" ry="0.85"/>
<ellipse cx="521.59" cy="53.8" rx="0.85" ry="0.85"/>
<ellipse cx="519.6" cy="53.6" rx="0.85" ry="0.85"/>
<ellipse cx="521.59" cy="50.2" rx="0.85" ry="0.85"/>
<ellipse cx="519.6" cy="50" rx="0.85" ry="0.85"/>
<ellipse cx="523.42" cy="49.4" rx="0.85" ry="0.85"/>
<ellipse cx="521.59" cy="40.5" rx="0.85" ry="0.85"/>
<ellipse cx="521.59" cy="35.8" rx="0.85" ry="0.85"/>
</g>
<text x="150.8" y="194.2" font-size="8.5" text-anchor="middle" fill="#262626" color="#262626" font-weight="normal" textLength="15.8" lengthAdjust="spacingAndGlyphs">CNV</text>
<text x="12.1" y="207" font-size="10.2" text-anchor="start" fill="#000" color="#000" font-weight="bold" textLength="6.2" lengthAdjust="spacingAndGlyphs">C</text>
<text transform="translate(14.7,270.4) rotate(-90)" font-size="7.7" text-anchor="middle" fill="#262626" color="#262626" textLength="39.5" lengthAdjust="spacingAndGlyphs">Probability</text>
<path d="M34.45 202.11V338.4H267.3" fill="none" stroke="#4a4a4a" stroke-width="1"/>
<path d="M32.05 338.4H34.45" stroke="#4a4a4a" stroke-width="1"/>
<text x="30.65" y="341.5" font-size="8.6" text-anchor="end" fill="#262626" color="#262626" font-weight="normal" textLength="10.2" lengthAdjust="spacingAndGlyphs">0.0</text>
<path d="M32.05 313.62H34.45" stroke="#4a4a4a" stroke-width="1"/>
<text x="30.65" y="316.72" font-size="8.6" text-anchor="end" fill="#262626" color="#262626" font-weight="normal" textLength="10.2" lengthAdjust="spacingAndGlyphs">0.2</text>
<path d="M32.05 288.84H34.45" stroke="#4a4a4a" stroke-width="1"/>
<text x="30.65" y="291.94" font-size="8.6" text-anchor="end" fill="#262626" color="#262626" font-weight="normal" textLength="10.2" lengthAdjust="spacingAndGlyphs">0.4</text>
<path d="M32.05 264.06H34.45" stroke="#4a4a4a" stroke-width="1"/>
<text x="30.65" y="267.16" font-size="8.6" text-anchor="end" fill="#262626" color="#262626" font-weight="normal" textLength="10.2" lengthAdjust="spacingAndGlyphs">0.6</text>
<path d="M32.05 239.28H34.45" stroke="#4a4a4a" stroke-width="1"/>
<text x="30.65" y="242.38" font-size="8.6" text-anchor="end" fill="#262626" color="#262626" font-weight="normal" textLength="10.2" lengthAdjust="spacingAndGlyphs">0.8</text>
<path d="M32.05 214.5H34.45" stroke="#4a4a4a" stroke-width="1"/>
<text x="30.65" y="217.6" font-size="8.6" text-anchor="end" fill="#262626" color="#262626" font-weight="normal" textLength="10.2" lengthAdjust="spacingAndGlyphs">1.0</text>
<path d="M73.26 338.4V340.8" stroke="#4a4a4a" stroke-width="1"/>
<text x="73.26" y="347.8" font-size="7.2" text-anchor="middle" fill="#262626" color="#262626" font-weight="normal" textLength="65.1" lengthAdjust="spacingAndGlyphs">AdaBoost Classifier</text>
<text x="41.26" y="355.3" font-size="7.2" text-anchor="start" fill="#4d4d4d" color="#4d4d4d" font-weight="normal" textLength="55" lengthAdjust="spacingAndGlyphs">(p-value: 1.69x10</text>
<text x="96.86" y="352.3" font-size="4.6" text-anchor="start" fill="#4d4d4d" color="#4d4d4d" font-weight="normal" textLength="5.4" lengthAdjust="spacingAndGlyphs">-22</text>
<text x="102.66" y="355.6" font-size="7.2" text-anchor="start" fill="#4d4d4d" color="#4d4d4d" font-weight="normal" textLength="2" lengthAdjust="spacingAndGlyphs">)</text>
<path d="M150.88 338.4V340.8" stroke="#4a4a4a" stroke-width="1"/>
<text x="150.88" y="347.8" font-size="7.2" text-anchor="middle" fill="#262626" color="#262626" font-weight="normal" textLength="46.8" lengthAdjust="spacingAndGlyphs">MLP Classifier</text>
<text x="118.72" y="355.3" font-size="7.2" text-anchor="start" fill="#4d4d4d" color="#4d4d4d" font-weight="normal" textLength="55.3" lengthAdjust="spacingAndGlyphs">(p-value: 2.61x10</text>
<text x="174.62" y="352.3" font-size="4.6" text-anchor="start" fill="#4d4d4d" color="#4d4d4d" font-weight="normal" textLength="5.4" lengthAdjust="spacingAndGlyphs">-31</text>
<text x="180.42" y="355.6" font-size="7.2" text-anchor="start" fill="#4d4d4d" color="#4d4d4d" font-weight="normal" textLength="2" lengthAdjust="spacingAndGlyphs">)</text>
<path d="M228.49 338.4V340.8" stroke="#4a4a4a" stroke-width="1"/>
<text x="228.49" y="347.8" font-size="7.2" text-anchor="middle" fill="#262626" color="#262626" font-weight="normal" textLength="66.1" lengthAdjust="spacingAndGlyphs">Logistic Regression</text>
<text x="196.49" y="355.3" font-size="7.2" text-anchor="start" fill="#4d4d4d" color="#4d4d4d" font-weight="normal" textLength="55" lengthAdjust="spacingAndGlyphs">(p-value: 7.31x10</text>
<text x="252.09" y="352.3" font-size="4.6" text-anchor="start" fill="#4d4d4d" color="#4d4d4d" font-weight="normal" textLength="5.4" lengthAdjust="spacingAndGlyphs">-21</text>
<text x="257.89" y="355.6" font-size="7.2" text-anchor="start" fill="#4d4d4d" color="#4d4d4d" font-weight="normal" textLength="2" lengthAdjust="spacingAndGlyphs">)</text>
<rect x="42.52" y="288.6" width="30.43" height="6.9" fill="#fff" stroke="#767676" stroke-width="1.0"/>
<path d="M42.52 291H72.95M57.74 288.6V281M57.74 295.5V298.4M50.13 281H65.34M50.13 298.4H65.34" fill="none" stroke="#767676" stroke-width="1.0"/>
<rect x="73.57" y="214.5" width="30.43" height="57.4" fill="#fff" stroke="#767676" stroke-width="1.0"/>
<path d="M73.57 233.5H103.99M88.78 214.5V214.5M88.78 271.9V298M81.18 214.5H96.39M81.18 298H96.39" fill="none" stroke="#767676" stroke-width="1.0"/>
<rect x="120.14" y="315.5" width="30.43" height="6.8" fill="#fff" stroke="#767676" stroke-width="1.0"/>
<path d="M120.14 319.1H150.56M135.35 315.5V311M135.35 322.3V326.2M127.75 311H142.96M127.75 326.2H142.96" fill="none" stroke="#767676" stroke-width="1.0"/>
<rect x="151.19" y="214.5" width="30.43" height="58.5" fill="#fff" stroke="#767676" stroke-width="1.0"/>
<path d="M151.19 214.5H181.61M166.4 214.5V214.5M166.4 273V338.4M158.79 214.5H174M158.79 338.4H174" fill="none" stroke="#767676" stroke-width="1.0"/>
<rect x="197.76" y="301.6" width="30.43" height="9.9" fill="#fff" stroke="#767676" stroke-width="1.0"/>
<path d="M197.76 310.5H228.18M212.97 301.6V286.9M212.97 311.5V315.5M205.36 286.9H220.57M205.36 315.5H220.57" fill="none" stroke="#767676" stroke-width="1.0"/>
<rect x="228.8" y="214.5" width="30.43" height="88.9" fill="#fff" stroke="#767676" stroke-width="1.0"/>
<path d="M228.8 220.2H259.23M244.02 214.5V214.5M244.02 303.4V338.2M236.41 214.5H251.62M236.41 338.2H251.62" fill="none" stroke="#767676" stroke-width="1.0"/>
<path d="M57.74 218.05l1.15 1.75-1.15 1.75-1.15-1.75z" fill="#6e6e6e"/>
<path d="M57.74 231.55l1.15 1.75-1.15 1.75-1.15-1.75z" fill="#6e6e6e"/>
<path d="M57.74 236.95l1.15 1.75-1.15 1.75-1.15-1.75z" fill="#6e6e6e"/>
<path d="M57.74 239.35l1.15 1.75-1.15 1.75-1.15-1.75z" fill="#6e6e6e"/>
<path d="M57.74 241.65l1.15 1.75-1.15 1.75-1.15-1.75z" fill="#6e6e6e"/>
<path d="M57.74 251.95l1.15 1.75-1.15 1.75-1.15-1.75z" fill="#6e6e6e"/>
<path d="M57.74 266.05l1.15 1.75-1.15 1.75-1.15-1.75z" fill="#6e6e6e"/>
<path d="M57.74 268.35l1.15 1.75-1.15 1.75-1.15-1.75z" fill="#6e6e6e"/>
<path d="M57.74 270.75l1.15 1.75-1.15 1.75-1.15-1.75z" fill="#6e6e6e"/>
<path d="M57.74 272.65l1.15 1.75-1.15 1.75-1.15-1.75z" fill="#6e6e6e"/>
<path d="M135.35 213.15l1.15 1.75-1.15 1.75-1.15-1.75z" fill="#6e6e6e"/>
<path d="M135.35 260.85l1.15 1.75-1.15 1.75-1.15-1.75z" fill="#6e6e6e"/>
<path d="M135.35 268.45l1.15 1.75-1.15 1.75-1.15-1.75z" fill="#6e6e6e"/>
<path d="M135.35 284.55l1.15 1.75-1.15 1.75-1.15-1.75z" fill="#6e6e6e"/>
<path d="M135.35 288.45l1.15 1.75-1.15 1.75-1.15-1.75z" fill="#6e6e6e"/>
<path d="M135.35 294.65l1.15 1.75-1.15 1.75-1.15-1.75z" fill="#6e6e6e"/>
<path d="M135.35 297.75l1.15 1.75-1.15 1.75-1.15-1.75z" fill="#6e6e6e"/>
<path d="M135.35 300.15l1.15 1.75-1.15 1.75-1.15-1.75z" fill="#6e6e6e"/>
<path d="M135.35 303.95l1.15 1.75-1.15 1.75-1.15-1.75z" fill="#6e6e6e"/>
<path d="M135.35 333.45l1.15 1.75-1.15 1.75-1.15-1.75z" fill="#6e6e6e"/>
<path d="M212.97 229.95l1.15 1.75-1.15 1.75-1.15-1.75z" fill="#6e6e6e"/>
<path d="M212.97 275.85l1.15 1.75-1.15 1.75-1.15-1.75z" fill="#6e6e6e"/>
<g fill="#1d5fb2">
<ellipse cx="57.74" cy="286.3" rx="0.85" ry="0.85"/>
<ellipse cx="55.76" cy="285.97" rx="0.85" ry="0.85"/>
<ellipse cx="59.62" cy="285.63" rx="0.85" ry="0.85"/>
<ellipse cx="53.88" cy="285.3" rx="0.85" ry="0.85"/>
<ellipse cx="61.52" cy="285" rx="0.85" ry="0.85"/>
<ellipse cx="63.51" cy="284.8" rx="0.85" ry="0.85"/>
<ellipse cx="57.74" cy="283.2" rx="0.85" ry="0.85"/>
<ellipse cx="55.75" cy="282.95" rx="0.85" ry="0.85"/>
<ellipse cx="59.67" cy="282.7" rx="0.85" ry="0.85"/>
<ellipse cx="57.74" cy="281" rx="0.85" ry="0.85"/>
<ellipse cx="57.74" cy="274.4" rx="0.85" ry="0.85"/>
<ellipse cx="57.11" cy="272.5" rx="0.85" ry="0.85"/>
<ellipse cx="57.74" cy="270.1" rx="0.85" ry="0.85"/>
<ellipse cx="57.74" cy="267.8" rx="0.85" ry="0.85"/>
<ellipse cx="55.75" cy="267.6" rx="0.85" ry="0.85"/>
<ellipse cx="57.74" cy="253.7" rx="0.85" ry="0.85"/>
<ellipse cx="57.74" cy="243.4" rx="0.85" ry="0.85"/>
<ellipse cx="57.74" cy="241.1" rx="0.85" ry="0.85"/>
<ellipse cx="57.74" cy="238.7" rx="0.85" ry="0.85"/>
<ellipse cx="55.75" cy="238.5" rx="0.85" ry="0.85"/>
<ellipse cx="57.74" cy="233.3" rx="0.85" ry="0.85"/>
<ellipse cx="57.74" cy="219.8" rx="0.85" ry="0.85"/>
<ellipse cx="48.5" cy="288.4" rx="0.85" ry="0.7"/>
<ellipse cx="50.5" cy="288.4" rx="0.85" ry="0.7"/>
<ellipse cx="52.5" cy="288.4" rx="0.85" ry="0.7"/>
<ellipse cx="54.5" cy="288.4" rx="0.85" ry="0.7"/>
<ellipse cx="56.5" cy="288.4" rx="0.85" ry="0.7"/>
<ellipse cx="58.5" cy="288.4" rx="0.85" ry="0.7"/>
<ellipse cx="60.5" cy="288.4" rx="0.85" ry="0.7"/>
<ellipse cx="62.5" cy="288.4" rx="0.85" ry="0.7"/>
<ellipse cx="64.5" cy="288.4" rx="0.85" ry="0.7"/>
<ellipse cx="66.5" cy="288.4" rx="0.85" ry="0.7"/>
<ellipse cx="42.8" cy="290.6" rx="0.85" ry="0.7"/>
<ellipse cx="44.8" cy="290.6" rx="0.85" ry="0.7"/>
<ellipse cx="46.8" cy="290.6" rx="0.85" ry="0.7"/>
<ellipse cx="48.8" cy="290.6" rx="0.85" ry="0.7"/>
<ellipse cx="50.8" cy="290.6" rx="0.85" ry="0.7"/>
<ellipse cx="52.8" cy="290.6" rx="0.85" ry="0.7"/>
<ellipse cx="54.8" cy="290.6" rx="0.85" ry="0.7"/>
<ellipse cx="56.8" cy="290.6" rx="0.85" ry="0.7"/>
<ellipse cx="58.8" cy="290.6" rx="0.85" ry="0.7"/>
<ellipse cx="60.8" cy="290.6" rx="0.85" ry="0.7"/>
<ellipse cx="62.8" cy="290.6" rx="0.85" ry="0.7"/>
<ellipse cx="64.8" cy="290.6" rx="0.85" ry="0.7"/>
<ellipse cx="66.8" cy="290.6" rx="0.85" ry="0.7"/>
<ellipse cx="68.8" cy="290.6" rx="0.85" ry="0.7"/>
<ellipse cx="70.8" cy="290.6" rx="0.85" ry="0.7"/>
<ellipse cx="72.8" cy="290.6" rx="0.85" ry="0.7"/>
<ellipse cx="45" cy="292.1" rx="0.85" ry="0.7"/>
<ellipse cx="47.12" cy="292.1" rx="0.85" ry="0.7"/>
<ellipse cx="49.25" cy="292.1" rx="0.85" ry="0.7"/>
<ellipse cx="51.38" cy="292.1" rx="0.85" ry="0.7"/>
<ellipse cx="53.5" cy="292.1" rx="0.85" ry="0.7"/>
<ellipse cx="55.62" cy="292.1" rx="0.85" ry="0.7"/>
<ellipse cx="57.75" cy="292.1" rx="0.85" ry="0.7"/>
<ellipse cx="59.88" cy="292.1" rx="0.85" ry="0.7"/>
<ellipse cx="62" cy="292.1" rx="0.85" ry="0.7"/>
<ellipse cx="64.12" cy="292.1" rx="0.85" ry="0.7"/>
<ellipse cx="66.25" cy="292.1" rx="0.85" ry="0.7"/>
<ellipse cx="68.38" cy="292.1" rx="0.85" ry="0.7"/>
<ellipse cx="70.5" cy="292.1" rx="0.85" ry="0.7"/>
<ellipse cx="43" cy="295.5" rx="0.85" ry="0.7"/>
<ellipse cx="44.99" cy="295.5" rx="0.85" ry="0.7"/>
<ellipse cx="46.97" cy="295.5" rx="0.85" ry="0.7"/>
<ellipse cx="48.96" cy="295.5" rx="0.85" ry="0.7"/>
<ellipse cx="50.95" cy="295.5" rx="0.85" ry="0.7"/>
<ellipse cx="52.93" cy="295.5" rx="0.85" ry="0.7"/>
<ellipse cx="54.92" cy="295.5" rx="0.85" ry="0.7"/>
<ellipse cx="56.91" cy="295.5" rx="0.85" ry="0.7"/>
<ellipse cx="58.89" cy="295.5" rx="0.85" ry="0.7"/>
<ellipse cx="60.88" cy="295.5" rx="0.85" ry="0.7"/>
<ellipse cx="62.87" cy="295.5" rx="0.85" ry="0.7"/>
<ellipse cx="64.85" cy="295.5" rx="0.85" ry="0.7"/>
<ellipse cx="66.84" cy="295.5" rx="0.85" ry="0.7"/>
<ellipse cx="68.83" cy="295.5" rx="0.85" ry="0.7"/>
<ellipse cx="70.81" cy="295.5" rx="0.85" ry="0.7"/>
<ellipse cx="72.8" cy="295.5" rx="0.85" ry="0.7"/>
<ellipse cx="50" cy="297.9" rx="0.85" ry="0.7"/>
<ellipse cx="52.14" cy="297.9" rx="0.85" ry="0.7"/>
<ellipse cx="54.29" cy="297.9" rx="0.85" ry="0.7"/>
<ellipse cx="56.43" cy="297.9" rx="0.85" ry="0.7"/>
<ellipse cx="58.57" cy="297.9" rx="0.85" ry="0.7"/>
<ellipse cx="60.71" cy="297.9" rx="0.85" ry="0.7"/>
<ellipse cx="62.86" cy="297.9" rx="0.85" ry="0.7"/>
<ellipse cx="65" cy="297.9" rx="0.85" ry="0.7"/>
</g>
<g fill="#f36c2e">
<ellipse cx="88.78" cy="298" rx="0.85" ry="0.85"/>
<ellipse cx="86.79" cy="297.8" rx="0.85" ry="0.85"/>
<ellipse cx="88.78" cy="295.2" rx="0.85" ry="0.85"/>
<ellipse cx="86.79" cy="295" rx="0.85" ry="0.85"/>
<ellipse cx="90.74" cy="294.8" rx="0.85" ry="0.85"/>
<ellipse cx="84.83" cy="294.6" rx="0.85" ry="0.85"/>
<ellipse cx="92.7" cy="294.4" rx="0.85" ry="0.85"/>
<ellipse cx="88.78" cy="292.4" rx="0.85" ry="0.85"/>
<ellipse cx="86.79" cy="292.25" rx="0.85" ry="0.85"/>
<ellipse cx="90.76" cy="292.1" rx="0.85" ry="0.85"/>
<ellipse cx="85.03" cy="291.3" rx="0.85" ry="0.85"/>
<ellipse cx="92.43" cy="291" rx="0.85" ry="0.85"/>
<ellipse cx="94.41" cy="290.7" rx="0.85" ry="0.85"/>
<ellipse cx="88.78" cy="290.4" rx="0.85" ry="0.85"/>
<ellipse cx="86.8" cy="290.1" rx="0.85" ry="0.85"/>
<ellipse cx="90.69" cy="289.8" rx="0.85" ry="0.85"/>
<ellipse cx="84.16" cy="289.5" rx="0.85" ry="0.85"/>
<ellipse cx="88.78" cy="288.3" rx="0.85" ry="0.85"/>
<ellipse cx="88.78" cy="284.8" rx="0.85" ry="0.85"/>
<ellipse cx="87.35" cy="283.4" rx="0.85" ry="0.85"/>
<ellipse cx="88.78" cy="277.2" rx="0.85" ry="0.85"/>
<ellipse cx="88.78" cy="275.1" rx="0.85" ry="0.85"/>
<ellipse cx="88.78" cy="267.5" rx="0.85" ry="0.85"/>
<ellipse cx="86.82" cy="267.1" rx="0.85" ry="0.85"/>
<ellipse cx="90.61" cy="266.7" rx="0.85" ry="0.85"/>
<ellipse cx="88.78" cy="265.4" rx="0.85" ry="0.85"/>
<ellipse cx="86.2" cy="265.2" rx="0.85" ry="0.85"/>
<ellipse cx="88.78" cy="260.5" rx="0.85" ry="0.85"/>
<ellipse cx="87.26" cy="259.2" rx="0.85" ry="0.85"/>
<ellipse cx="88.78" cy="257.2" rx="0.85" ry="0.85"/>
<ellipse cx="87.46" cy="255.7" rx="0.85" ry="0.85"/>
<ellipse cx="88.98" cy="254.4" rx="0.85" ry="0.85"/>
<ellipse cx="90.97" cy="254.2" rx="0.85" ry="0.85"/>
<ellipse cx="88.78" cy="251.6" rx="0.85" ry="0.85"/>
<ellipse cx="88.78" cy="246.8" rx="0.85" ry="0.85"/>
<ellipse cx="88.78" cy="243.3" rx="0.85" ry="0.85"/>
<ellipse cx="86.79" cy="243.1" rx="0.85" ry="0.85"/>
<ellipse cx="88.78" cy="239.1" rx="0.85" ry="0.85"/>
<ellipse cx="88.78" cy="237" rx="0.85" ry="0.85"/>
<ellipse cx="88.78" cy="232.9" rx="0.85" ry="0.85"/>
<ellipse cx="88.78" cy="230.5" rx="0.85" ry="0.85"/>
<ellipse cx="88.78" cy="227.3" rx="0.85" ry="0.85"/>
<ellipse cx="88.78" cy="225.3" rx="0.85" ry="0.85"/>
<ellipse cx="87.35" cy="223.9" rx="0.85" ry="0.85"/>
<ellipse cx="88.78" cy="220.4" rx="0.85" ry="0.85"/>
<ellipse cx="87.35" cy="219" rx="0.85" ry="0.85"/>
<ellipse cx="89.98" cy="218.8" rx="0.85" ry="0.85"/>
<ellipse cx="91.58" cy="217.6" rx="0.85" ry="0.85"/>
<ellipse cx="86.09" cy="217.45" rx="0.85" ry="0.85"/>
<ellipse cx="88.66" cy="217.3" rx="0.85" ry="0.85"/>
<ellipse cx="93.01" cy="216.2" rx="0.85" ry="0.85"/>
<ellipse cx="90.13" cy="215.95" rx="0.85" ry="0.85"/>
<ellipse cx="87.46" cy="215.7" rx="0.85" ry="0.85"/>
<ellipse cx="85.47" cy="215.45" rx="0.85" ry="0.85"/>
<ellipse cx="83.49" cy="215.2" rx="0.85" ry="0.85"/>
<ellipse cx="74" cy="214.6" rx="0.85" ry="0.7"/>
<ellipse cx="76.11" cy="214.6" rx="0.85" ry="0.7"/>
<ellipse cx="78.21" cy="214.6" rx="0.85" ry="0.7"/>
<ellipse cx="80.32" cy="214.6" rx="0.85" ry="0.7"/>
<ellipse cx="82.43" cy="214.6" rx="0.85" ry="0.7"/>
<ellipse cx="84.54" cy="214.6" rx="0.85" ry="0.7"/>
<ellipse cx="86.64" cy="214.6" rx="0.85" ry="0.7"/>
<ellipse cx="88.75" cy="214.6" rx="0.85" ry="0.7"/>
<ellipse cx="90.86" cy="214.6" rx="0.85" ry="0.7"/>
<ellipse cx="92.96" cy="214.6" rx="0.85" ry="0.7"/>
<ellipse cx="95.07" cy="214.6" rx="0.85" ry="0.7"/>
<ellipse cx="97.18" cy="214.6" rx="0.85" ry="0.7"/>
<ellipse cx="99.29" cy="214.6" rx="0.85" ry="0.7"/>
<ellipse cx="101.39" cy="214.6" rx="0.85" ry="0.7"/>
<ellipse cx="103.5" cy="214.6" rx="0.85" ry="0.7"/>
</g>
<g fill="#1d5fb2">
<ellipse cx="135.35" cy="335.2" rx="0.85" ry="0.85"/>
<ellipse cx="135.35" cy="326.2" rx="0.85" ry="0.85"/>
<ellipse cx="133.36" cy="326" rx="0.85" ry="0.85"/>
<ellipse cx="136.67" cy="324.7" rx="0.85" ry="0.85"/>
<ellipse cx="138.67" cy="324.57" rx="0.85" ry="0.85"/>
<ellipse cx="132.12" cy="324.43" rx="0.85" ry="0.85"/>
<ellipse cx="134.71" cy="324.3" rx="0.85" ry="0.85"/>
<ellipse cx="140.03" cy="323.1" rx="0.85" ry="0.85"/>
<ellipse cx="130.74" cy="322.98" rx="0.85" ry="0.85"/>
<ellipse cx="137.46" cy="322.86" rx="0.85" ry="0.85"/>
<ellipse cx="133.46" cy="322.74" rx="0.85" ry="0.85"/>
<ellipse cx="128.78" cy="322.62" rx="0.85" ry="0.85"/>
<ellipse cx="141.94" cy="322.5" rx="0.85" ry="0.85"/>
<ellipse cx="135.35" cy="321.6" rx="0.85" ry="0.85"/>
<ellipse cx="127.09" cy="321.54" rx="0.85" ry="0.85"/>
<ellipse cx="143.66" cy="321.48" rx="0.85" ry="0.85"/>
<ellipse cx="138.84" cy="321.42" rx="0.85" ry="0.85"/>
<ellipse cx="132.02" cy="321.35" rx="0.85" ry="0.85"/>
<ellipse cx="125.11" cy="321.29" rx="0.85" ry="0.85"/>
<ellipse cx="145.64" cy="321.23" rx="0.85" ry="0.85"/>
<ellipse cx="123.11" cy="321.17" rx="0.85" ry="0.85"/>
<ellipse cx="147.64" cy="321.11" rx="0.85" ry="0.85"/>
<ellipse cx="130.05" cy="321.05" rx="0.85" ry="0.85"/>
<ellipse cx="121.12" cy="320.98" rx="0.85" ry="0.85"/>
<ellipse cx="149.63" cy="320.92" rx="0.85" ry="0.85"/>
<ellipse cx="140.76" cy="320.86" rx="0.85" ry="0.85"/>
<ellipse cx="120.14" cy="320.8" rx="0.85" ry="0.85"/>
<ellipse cx="134.15" cy="320" rx="0.85" ry="0.85"/>
<ellipse cx="136.46" cy="319.94" rx="0.85" ry="0.85"/>
<ellipse cx="128.42" cy="319.88" rx="0.85" ry="0.85"/>
<ellipse cx="142.47" cy="319.82" rx="0.85" ry="0.85"/>
<ellipse cx="150.56" cy="319.75" rx="0.85" ry="0.85"/>
<ellipse cx="126.33" cy="319.69" rx="0.85" ry="0.85"/>
<ellipse cx="120.14" cy="319.63" rx="0.85" ry="0.85"/>
<ellipse cx="144.45" cy="319.57" rx="0.85" ry="0.85"/>
<ellipse cx="150.56" cy="319.51" rx="0.85" ry="0.85"/>
<ellipse cx="138.4" cy="319.45" rx="0.85" ry="0.85"/>
<ellipse cx="131.67" cy="319.38" rx="0.85" ry="0.85"/>
<ellipse cx="124.36" cy="319.32" rx="0.85" ry="0.85"/>
<ellipse cx="146.43" cy="319.26" rx="0.85" ry="0.85"/>
<ellipse cx="122.36" cy="319.2" rx="0.85" ry="0.85"/>
<ellipse cx="140.17" cy="318.5" rx="0.85" ry="0.85"/>
<ellipse cx="129.94" cy="318.39" rx="0.85" ry="0.85"/>
<ellipse cx="135.35" cy="318.28" rx="0.85" ry="0.85"/>
<ellipse cx="133.35" cy="318.17" rx="0.85" ry="0.85"/>
<ellipse cx="127.6" cy="318.06" rx="0.85" ry="0.85"/>
<ellipse cx="143.17" cy="317.94" rx="0.85" ry="0.85"/>
<ellipse cx="147.83" cy="317.83" rx="0.85" ry="0.85"/>
<ellipse cx="137.27" cy="317.72" rx="0.85" ry="0.85"/>
<ellipse cx="125.65" cy="317.61" rx="0.85" ry="0.85"/>
<ellipse cx="145.12" cy="317.5" rx="0.85" ry="0.85"/>
<ellipse cx="132.11" cy="316.6" rx="0.85" ry="0.85"/>
<ellipse cx="134.46" cy="316.49" rx="0.85" ry="0.85"/>
<ellipse cx="138.75" cy="316.37" rx="0.85" ry="0.85"/>
<ellipse cx="130.14" cy="316.26" rx="0.85" ry="0.85"/>
<ellipse cx="140.73" cy="316.14" rx="0.85" ry="0.85"/>
<ellipse cx="128.15" cy="316.03" rx="0.85" ry="0.85"/>
<ellipse cx="136.38" cy="315.91" rx="0.85" ry="0.85"/>
<ellipse cx="142.7" cy="315.8" rx="0.85" ry="0.85"/>
<ellipse cx="126.44" cy="315" rx="0.85" ry="0.85"/>
<ellipse cx="133.33" cy="314.84" rx="0.85" ry="0.85"/>
<ellipse cx="144.36" cy="314.67" rx="0.85" ry="0.85"/>
<ellipse cx="137.8" cy="314.51" rx="0.85" ry="0.85"/>
<ellipse cx="131.39" cy="314.35" rx="0.85" ry="0.85"/>
<ellipse cx="135.35" cy="314.18" rx="0.85" ry="0.85"/>
<ellipse cx="139.74" cy="314.02" rx="0.85" ry="0.85"/>
<ellipse cx="129.45" cy="313.85" rx="0.85" ry="0.85"/>
<ellipse cx="141.71" cy="313.69" rx="0.85" ry="0.85"/>
<ellipse cx="125.08" cy="313.53" rx="0.85" ry="0.85"/>
<ellipse cx="145.98" cy="313.5" rx="0.85" ry="0.85"/>
<ellipse cx="123.09" cy="313.36" rx="0.85" ry="0.85"/>
<ellipse cx="147.97" cy="313.35" rx="0.85" ry="0.85"/>
<ellipse cx="127.56" cy="313.2" rx="0.85" ry="0.85"/>
<ellipse cx="121.1" cy="313.2" rx="0.85" ry="0.85"/>
<ellipse cx="135.35" cy="312" rx="0.85" ry="0.85"/>
<ellipse cx="133.36" cy="311.8" rx="0.85" ry="0.85"/>
<ellipse cx="136.87" cy="310.7" rx="0.85" ry="0.85"/>
<ellipse cx="135.35" cy="305.7" rx="0.85" ry="0.85"/>
<ellipse cx="135.35" cy="301.9" rx="0.85" ry="0.85"/>
<ellipse cx="133.36" cy="301.7" rx="0.85" ry="0.85"/>
<ellipse cx="135.35" cy="299.5" rx="0.85" ry="0.85"/>
<ellipse cx="135.35" cy="296.4" rx="0.85" ry="0.85"/>
<ellipse cx="133.36" cy="296.2" rx="0.85" ry="0.85"/>
<ellipse cx="135.35" cy="290.2" rx="0.85" ry="0.85"/>
<ellipse cx="135.35" cy="286.3" rx="0.85" ry="0.85"/>
<ellipse cx="135.35" cy="270.2" rx="0.85" ry="0.85"/>
<ellipse cx="135.35" cy="262.6" rx="0.85" ry="0.85"/>
<ellipse cx="135.35" cy="214.9" rx="0.85" ry="0.85"/>
<ellipse cx="133.36" cy="214.7" rx="0.85" ry="0.85"/>
</g>
<g fill="#f36c2e">
<ellipse cx="166.4" cy="338.2" rx="0.85" ry="0.85"/>
<ellipse cx="166.4" cy="320.5" rx="0.85" ry="0.85"/>
<ellipse cx="164.4" cy="320.35" rx="0.85" ry="0.85"/>
<ellipse cx="168.38" cy="320.2" rx="0.85" ry="0.85"/>
<ellipse cx="166.4" cy="314.4" rx="0.85" ry="0.85"/>
<ellipse cx="164.4" cy="314.25" rx="0.85" ry="0.85"/>
<ellipse cx="168.38" cy="314.1" rx="0.85" ry="0.85"/>
<ellipse cx="166.4" cy="307" rx="0.85" ry="0.85"/>
<ellipse cx="166.4" cy="300.6" rx="0.85" ry="0.85"/>
<ellipse cx="164.4" cy="300.45" rx="0.85" ry="0.85"/>
<ellipse cx="168.38" cy="300.3" rx="0.85" ry="0.85"/>
<ellipse cx="166.4" cy="295" rx="0.85" ry="0.85"/>
<ellipse cx="166.4" cy="283.2" rx="0.85" ry="0.85"/>
<ellipse cx="166.4" cy="269.5" rx="0.85" ry="0.85"/>
<ellipse cx="166.4" cy="266.4" rx="0.85" ry="0.85"/>
<ellipse cx="164.41" cy="266.2" rx="0.85" ry="0.85"/>
<ellipse cx="166.4" cy="258.3" rx="0.85" ry="0.85"/>
<ellipse cx="164.41" cy="258.1" rx="0.85" ry="0.85"/>
<ellipse cx="166.4" cy="240" rx="0.85" ry="0.85"/>
<ellipse cx="166.4" cy="233.2" rx="0.85" ry="0.85"/>
<ellipse cx="166.4" cy="225.6" rx="0.85" ry="0.85"/>
<ellipse cx="166.4" cy="223.3" rx="0.85" ry="0.85"/>
<ellipse cx="166.4" cy="219.9" rx="0.85" ry="0.85"/>
<ellipse cx="166.4" cy="216" rx="0.85" ry="0.85"/>
<ellipse cx="164.44" cy="215.6" rx="0.85" ry="0.85"/>
<ellipse cx="168.23" cy="215.2" rx="0.85" ry="0.85"/>
<ellipse cx="151.5" cy="214.5" rx="0.85" ry="0.7"/>
<ellipse cx="153.61" cy="214.5" rx="0.85" ry="0.7"/>
<ellipse cx="155.71" cy="214.5" rx="0.85" ry="0.7"/>
<ellipse cx="157.82" cy="214.5" rx="0.85" ry="0.7"/>
<ellipse cx="159.93" cy="214.5" rx="0.85" ry="0.7"/>
<ellipse cx="162.04" cy="214.5" rx="0.85" ry="0.7"/>
<ellipse cx="164.14" cy="214.5" rx="0.85" ry="0.7"/>
<ellipse cx="166.25" cy="214.5" rx="0.85" ry="0.7"/>
<ellipse cx="168.36" cy="214.5" rx="0.85" ry="0.7"/>
<ellipse cx="170.46" cy="214.5" rx="0.85" ry="0.7"/>
<ellipse cx="172.57" cy="214.5" rx="0.85" ry="0.7"/>
<ellipse cx="174.68" cy="214.5" rx="0.85" ry="0.7"/>
<ellipse cx="176.79" cy="214.5" rx="0.85" ry="0.7"/>
<ellipse cx="178.89" cy="214.5" rx="0.85" ry="0.7"/>
<ellipse cx="181" cy="214.5" rx="0.85" ry="0.7"/>
</g>
<g fill="#1d5fb2">
<ellipse cx="212.97" cy="315.7" rx="0.85" ry="0.85"/>
<ellipse cx="210.97" cy="315.57" rx="0.85" ry="0.85"/>
<ellipse cx="214.95" cy="315.43" rx="0.85" ry="0.85"/>
<ellipse cx="208.99" cy="315.3" rx="0.85" ry="0.85"/>
<ellipse cx="216.77" cy="314.6" rx="0.85" ry="0.85"/>
<ellipse cx="218.77" cy="314.48" rx="0.85" ry="0.85"/>
<ellipse cx="207.22" cy="314.37" rx="0.85" ry="0.85"/>
<ellipse cx="205.23" cy="314.25" rx="0.85" ry="0.85"/>
<ellipse cx="220.73" cy="314.13" rx="0.85" ry="0.85"/>
<ellipse cx="203.24" cy="314.02" rx="0.85" ry="0.85"/>
<ellipse cx="212.1" cy="313.9" rx="0.85" ry="0.85"/>
<ellipse cx="213.83" cy="312.9" rx="0.85" ry="0.85"/>
<ellipse cx="210.43" cy="312.79" rx="0.85" ry="0.85"/>
<ellipse cx="215.82" cy="312.67" rx="0.85" ry="0.85"/>
<ellipse cx="208.45" cy="312.56" rx="0.85" ry="0.85"/>
<ellipse cx="217.8" cy="312.45" rx="0.85" ry="0.85"/>
<ellipse cx="206.46" cy="312.34" rx="0.85" ry="0.85"/>
<ellipse cx="219.79" cy="312.22" rx="0.85" ry="0.85"/>
<ellipse cx="204.47" cy="312.11" rx="0.85" ry="0.85"/>
<ellipse cx="221.78" cy="312" rx="0.85" ry="0.85"/>
<ellipse cx="212.63" cy="311.3" rx="0.85" ry="0.85"/>
<ellipse cx="202.67" cy="311.24" rx="0.85" ry="0.85"/>
<ellipse cx="223.6" cy="311.19" rx="0.85" ry="0.85"/>
<ellipse cx="200.67" cy="311.13" rx="0.85" ry="0.85"/>
<ellipse cx="225.6" cy="311.07" rx="0.85" ry="0.85"/>
<ellipse cx="214.61" cy="311.01" rx="0.85" ry="0.85"/>
<ellipse cx="198.68" cy="310.96" rx="0.85" ry="0.85"/>
<ellipse cx="209.77" cy="310.9" rx="0.85" ry="0.85"/>
<ellipse cx="227.59" cy="310.84" rx="0.85" ry="0.85"/>
<ellipse cx="216.59" cy="310.79" rx="0.85" ry="0.85"/>
<ellipse cx="207.65" cy="310.73" rx="0.85" ry="0.85"/>
<ellipse cx="197.76" cy="310.67" rx="0.85" ry="0.85"/>
<ellipse cx="218.6" cy="310.61" rx="0.85" ry="0.85"/>
<ellipse cx="228.18" cy="310.56" rx="0.85" ry="0.85"/>
<ellipse cx="205.66" cy="310.5" rx="0.85" ry="0.85"/>
<ellipse cx="220.55" cy="310.2" rx="0.85" ry="0.85"/>
<ellipse cx="197.76" cy="310.08" rx="0.85" ry="0.85"/>
<ellipse cx="228.18" cy="309.97" rx="0.85" ry="0.85"/>
<ellipse cx="197.76" cy="309.85" rx="0.85" ry="0.85"/>
<ellipse cx="228.18" cy="309.73" rx="0.85" ry="0.85"/>
<ellipse cx="211.55" cy="309.62" rx="0.85" ry="0.85"/>
<ellipse cx="203.93" cy="309.5" rx="0.85" ry="0.85"/>
<ellipse cx="213.37" cy="308.8" rx="0.85" ry="0.85"/>
<ellipse cx="215.37" cy="308.65" rx="0.85" ry="0.85"/>
<ellipse cx="209.89" cy="308.5" rx="0.85" ry="0.85"/>
<ellipse cx="212.97" cy="306.7" rx="0.85" ry="0.85"/>
<ellipse cx="211.54" cy="305.3" rx="0.85" ry="0.85"/>
<ellipse cx="212.97" cy="299.8" rx="0.85" ry="0.85"/>
<ellipse cx="210.97" cy="299.68" rx="0.85" ry="0.85"/>
<ellipse cx="214.95" cy="299.56" rx="0.85" ry="0.85"/>
<ellipse cx="208.99" cy="299.44" rx="0.85" ry="0.85"/>
<ellipse cx="216.94" cy="299.32" rx="0.85" ry="0.85"/>
<ellipse cx="207" cy="299.2" rx="0.85" ry="0.85"/>
<ellipse cx="218.92" cy="299.08" rx="0.85" ry="0.85"/>
<ellipse cx="220.92" cy="298.96" rx="0.85" ry="0.85"/>
<ellipse cx="205.03" cy="298.84" rx="0.85" ry="0.85"/>
<ellipse cx="203.04" cy="298.72" rx="0.85" ry="0.85"/>
<ellipse cx="222.89" cy="298.6" rx="0.85" ry="0.85"/>
<ellipse cx="212.97" cy="297.7" rx="0.85" ry="0.85"/>
<ellipse cx="210.98" cy="297.5" rx="0.85" ry="0.85"/>
<ellipse cx="212.97" cy="295.6" rx="0.85" ry="0.85"/>
<ellipse cx="212.97" cy="292.2" rx="0.85" ry="0.85"/>
<ellipse cx="212.97" cy="289.4" rx="0.85" ry="0.85"/>
<ellipse cx="212.97" cy="286.9" rx="0.85" ry="0.85"/>
<ellipse cx="212.97" cy="277.6" rx="0.85" ry="0.85"/>
<ellipse cx="212.97" cy="231.7" rx="0.85" ry="0.85"/>
</g>
<g fill="#f36c2e">
<ellipse cx="244.02" cy="338.2" rx="0.85" ry="0.85"/>
<ellipse cx="244.02" cy="315.3" rx="0.85" ry="0.85"/>
<ellipse cx="242.03" cy="315.1" rx="0.85" ry="0.85"/>
<ellipse cx="244.02" cy="312.9" rx="0.85" ry="0.85"/>
<ellipse cx="242.02" cy="312.75" rx="0.85" ry="0.85"/>
<ellipse cx="245.99" cy="312.6" rx="0.85" ry="0.85"/>
<ellipse cx="240.89" cy="311.1" rx="0.85" ry="0.85"/>
<ellipse cx="244.02" cy="310.9" rx="0.85" ry="0.85"/>
<ellipse cx="243.39" cy="309" rx="0.85" ry="0.85"/>
<ellipse cx="245.38" cy="308.85" rx="0.85" ry="0.85"/>
<ellipse cx="241.41" cy="308.7" rx="0.85" ry="0.85"/>
<ellipse cx="244.02" cy="306.3" rx="0.85" ry="0.85"/>
<ellipse cx="242.03" cy="306.1" rx="0.85" ry="0.85"/>
<ellipse cx="244.02" cy="303.6" rx="0.85" ry="0.85"/>
<ellipse cx="242.03" cy="303.4" rx="0.85" ry="0.85"/>
<ellipse cx="244.02" cy="299.1" rx="0.85" ry="0.85"/>
<ellipse cx="243.14" cy="297.3" rx="0.85" ry="0.85"/>
<ellipse cx="245.13" cy="297.1" rx="0.85" ry="0.85"/>
<ellipse cx="244.02" cy="293.7" rx="0.85" ry="0.85"/>
<ellipse cx="243.14" cy="291.9" rx="0.85" ry="0.85"/>
<ellipse cx="245.13" cy="291.7" rx="0.85" ry="0.85"/>
<ellipse cx="244.02" cy="287.4" rx="0.85" ry="0.85"/>
<ellipse cx="244.02" cy="282" rx="0.85" ry="0.85"/>
<ellipse cx="244.02" cy="277.5" rx="0.85" ry="0.85"/>
<ellipse cx="244.02" cy="272.1" rx="0.85" ry="0.85"/>
<ellipse cx="243.14" cy="270.3" rx="0.85" ry="0.85"/>
<ellipse cx="244.02" cy="257.7" rx="0.85" ry="0.85"/>
<ellipse cx="244.02" cy="249.9" rx="0.85" ry="0.85"/>
<ellipse cx="244.02" cy="246.4" rx="0.85" ry="0.85"/>
<ellipse cx="244.02" cy="242.3" rx="0.85" ry="0.85"/>
<ellipse cx="244.02" cy="227.1" rx="0.85" ry="0.85"/>
<ellipse cx="244.02" cy="224.5" rx="0.85" ry="0.85"/>
<ellipse cx="244.02" cy="216" rx="0.85" ry="0.85"/>
<ellipse cx="242.06" cy="215.6" rx="0.85" ry="0.85"/>
<ellipse cx="245.85" cy="215.2" rx="0.85" ry="0.85"/>
<ellipse cx="229" cy="214.5" rx="0.85" ry="0.7"/>
<ellipse cx="231.18" cy="214.5" rx="0.85" ry="0.7"/>
<ellipse cx="233.36" cy="214.5" rx="0.85" ry="0.7"/>
<ellipse cx="235.54" cy="214.5" rx="0.85" ry="0.7"/>
<ellipse cx="237.71" cy="214.5" rx="0.85" ry="0.7"/>
<ellipse cx="239.89" cy="214.5" rx="0.85" ry="0.7"/>
<ellipse cx="242.07" cy="214.5" rx="0.85" ry="0.7"/>
<ellipse cx="244.25" cy="214.5" rx="0.85" ry="0.7"/>
<ellipse cx="246.43" cy="214.5" rx="0.85" ry="0.7"/>
<ellipse cx="248.61" cy="214.5" rx="0.85" ry="0.7"/>
<ellipse cx="250.79" cy="214.5" rx="0.85" ry="0.7"/>
<ellipse cx="252.96" cy="214.5" rx="0.85" ry="0.7"/>
<ellipse cx="255.14" cy="214.5" rx="0.85" ry="0.7"/>
<ellipse cx="257.32" cy="214.5" rx="0.85" ry="0.7"/>
<ellipse cx="259.5" cy="214.5" rx="0.85" ry="0.7"/>
</g>
<text x="432.35" y="194" font-size="8.5" text-anchor="middle" fill="#262626" color="#262626" font-weight="normal" textLength="131.3" lengthAdjust="spacingAndGlyphs">Cyfra21-1 + CEA + cfDNA% + CNV</text>
<text x="286" y="206.7" font-size="10.2" text-anchor="start" fill="#000" color="#000" font-weight="bold" textLength="6.9" lengthAdjust="spacingAndGlyphs">D</text>
<text transform="translate(296,270.4) rotate(-90)" font-size="7.7" text-anchor="middle" fill="#262626" color="#262626" textLength="39.5" lengthAdjust="spacingAndGlyphs">Probability</text>
<path d="M315.8 202.12V338.3H548.9" fill="none" stroke="#4a4a4a" stroke-width="1"/>
<path d="M313.4 338.3H315.8" stroke="#4a4a4a" stroke-width="1"/>
<text x="312" y="341.4" font-size="8.6" text-anchor="end" fill="#262626" color="#262626" font-weight="normal" textLength="10.2" lengthAdjust="spacingAndGlyphs">0.0</text>
<path d="M313.4 313.54H315.8" stroke="#4a4a4a" stroke-width="1"/>
<text x="312" y="316.64" font-size="8.6" text-anchor="end" fill="#262626" color="#262626" font-weight="normal" textLength="10.2" lengthAdjust="spacingAndGlyphs">0.2</text>
<path d="M313.4 288.78H315.8" stroke="#4a4a4a" stroke-width="1"/>
<text x="312" y="291.88" font-size="8.6" text-anchor="end" fill="#262626" color="#262626" font-weight="normal" textLength="10.2" lengthAdjust="spacingAndGlyphs">0.4</text>
<path d="M313.4 264.02H315.8" stroke="#4a4a4a" stroke-width="1"/>
<text x="312" y="267.12" font-size="8.6" text-anchor="end" fill="#262626" color="#262626" font-weight="normal" textLength="10.2" lengthAdjust="spacingAndGlyphs">0.6</text>
<path d="M313.4 239.26H315.8" stroke="#4a4a4a" stroke-width="1"/>
<text x="312" y="242.36" font-size="8.6" text-anchor="end" fill="#262626" color="#262626" font-weight="normal" textLength="10.2" lengthAdjust="spacingAndGlyphs">0.8</text>
<path d="M313.4 214.5H315.8" stroke="#4a4a4a" stroke-width="1"/>
<text x="312" y="217.6" font-size="8.6" text-anchor="end" fill="#262626" color="#262626" font-weight="normal" textLength="10.2" lengthAdjust="spacingAndGlyphs">1.0</text>
<path d="M354.65 338.3V340.7" stroke="#4a4a4a" stroke-width="1"/>
<text x="354.65" y="347.7" font-size="7.2" text-anchor="middle" fill="#262626" color="#262626" font-weight="normal" textLength="65.7" lengthAdjust="spacingAndGlyphs">AdaBoost Classifier</text>
<text x="322.5" y="355.2" font-size="7.2" text-anchor="start" fill="#4d4d4d" color="#4d4d4d" font-weight="normal" textLength="55.3" lengthAdjust="spacingAndGlyphs">(p-value: 1.72x10</text>
<text x="378.4" y="352.2" font-size="4.6" text-anchor="start" fill="#4d4d4d" color="#4d4d4d" font-weight="normal" textLength="5.4" lengthAdjust="spacingAndGlyphs">-25</text>
<text x="384.2" y="355.5" font-size="7.2" text-anchor="start" fill="#4d4d4d" color="#4d4d4d" font-weight="normal" textLength="2" lengthAdjust="spacingAndGlyphs">)</text>
<path d="M432.35 338.3V340.7" stroke="#4a4a4a" stroke-width="1"/>
<text x="432.35" y="347.7" font-size="7.2" text-anchor="middle" fill="#262626" color="#262626" font-weight="normal" textLength="47" lengthAdjust="spacingAndGlyphs">MLP Classifier</text>
<text x="400.2" y="355.2" font-size="7.2" text-anchor="start" fill="#4d4d4d" color="#4d4d4d" font-weight="normal" textLength="55.3" lengthAdjust="spacingAndGlyphs">(p-value: 1.77x10</text>
<text x="456.1" y="352.2" font-size="4.6" text-anchor="start" fill="#4d4d4d" color="#4d4d4d" font-weight="normal" textLength="5.4" lengthAdjust="spacingAndGlyphs">-34</text>
<text x="461.9" y="355.5" font-size="7.2" text-anchor="start" fill="#4d4d4d" color="#4d4d4d" font-weight="normal" textLength="2" lengthAdjust="spacingAndGlyphs">)</text>
<path d="M510.05 338.3V340.7" stroke="#4a4a4a" stroke-width="1"/>
<text x="510.05" y="347.7" font-size="7.2" text-anchor="middle" fill="#262626" color="#262626" font-weight="normal" textLength="66.2" lengthAdjust="spacingAndGlyphs">Logistic Regression</text>
<text x="477.7" y="355.2" font-size="7.2" text-anchor="start" fill="#4d4d4d" color="#4d4d4d" font-weight="normal" textLength="55.7" lengthAdjust="spacingAndGlyphs">(p-value: 9.13x10</text>
<text x="534" y="352.2" font-size="4.6" text-anchor="start" fill="#4d4d4d" color="#4d4d4d" font-weight="normal" textLength="5.4" lengthAdjust="spacingAndGlyphs">-30</text>
<text x="539.8" y="355.5" font-size="7.2" text-anchor="start" fill="#4d4d4d" color="#4d4d4d" font-weight="normal" textLength="2" lengthAdjust="spacingAndGlyphs">)</text>
<rect x="323.88" y="281.9" width="30.46" height="9.4" fill="#fff" stroke="#767676" stroke-width="1.0"/>
<path d="M323.88 290.7H354.34M339.11 281.9V266.6M339.11 291.3V303.6M331.5 266.6H346.72M331.5 303.6H346.72" fill="none" stroke="#767676" stroke-width="1.0"/>
<rect x="354.96" y="228.2" width="30.46" height="43.9" fill="#fff" stroke="#767676" stroke-width="1.0"/>
<path d="M354.96 249.4H385.42M370.19 228.2V215M370.19 272.1V303.7M362.58 215H377.8M362.58 303.7H377.8" fill="none" stroke="#767676" stroke-width="1.0"/>
<rect x="401.58" y="308.7" width="30.46" height="23.3" fill="#fff" stroke="#767676" stroke-width="1.0"/>
<path d="M401.58 323.6H432.04M416.81 308.7V277.1M416.81 332V335.5M409.2 277.1H424.42M409.2 335.5H424.42" fill="none" stroke="#767676" stroke-width="1.0"/>
<rect x="432.66" y="214.5" width="30.46" height="38.9" fill="#fff" stroke="#767676" stroke-width="1.0"/>
<path d="M432.66 214.5H463.12M447.89 214.5V214.5M447.89 253.4V308.4M440.28 214.5H455.5M440.28 308.4H455.5" fill="none" stroke="#767676" stroke-width="1.0"/>
<rect x="479.28" y="309.2" width="30.46" height="13.5" fill="#fff" stroke="#767676" stroke-width="1.0"/>
<path d="M479.28 316.6H509.74M494.51 309.2V290.3M494.51 322.7V331.4M486.9 290.3H502.12M486.9 331.4H502.12" fill="none" stroke="#767676" stroke-width="1.0"/>
<rect x="510.36" y="214.5" width="30.46" height="70.2" fill="#fff" stroke="#767676" stroke-width="1.0"/>
<path d="M510.36 214.5H540.82M525.59 214.5V214.5M525.59 284.7V329.7M517.98 214.5H533.2M517.98 329.7H533.2" fill="none" stroke="#767676" stroke-width="1.0"/>
<path d="M339.11 247.45l1.15 1.75-1.15 1.75-1.15-1.75z" fill="#6e6e6e"/>
<path d="M339.11 248.95l1.15 1.75-1.15 1.75-1.15-1.75z" fill="#6e6e6e"/>
<path d="M339.11 252.75l1.15 1.75-1.15 1.75-1.15-1.75z" fill="#6e6e6e"/>
<path d="M339.11 254.05l1.15 1.75-1.15 1.75-1.15-1.75z" fill="#6e6e6e"/>
<path d="M339.11 260.35l1.15 1.75-1.15 1.75-1.15-1.75z" fill="#6e6e6e"/>
<path d="M339.11 306.05l1.15 1.75-1.15 1.75-1.15-1.75z" fill="#6e6e6e"/>
<path d="M416.81 213.15l1.15 1.75-1.15 1.75-1.15-1.75z" fill="#6e6e6e"/>
<path d="M416.81 234.95l1.15 1.75-1.15 1.75-1.15-1.75z" fill="#6e6e6e"/>
<path d="M416.81 244.05l1.15 1.75-1.15 1.75-1.15-1.75z" fill="#6e6e6e"/>
<path d="M416.81 248.65l1.15 1.75-1.15 1.75-1.15-1.75z" fill="#6e6e6e"/>
<path d="M416.81 256.25l1.15 1.75-1.15 1.75-1.15-1.75z" fill="#6e6e6e"/>
<path d="M416.81 262.35l1.15 1.75-1.15 1.75-1.15-1.75z" fill="#6e6e6e"/>
<path d="M447.89 317.35l1.15 1.75-1.15 1.75-1.15-1.75z" fill="#6e6e6e"/>
<path d="M447.89 322.25l1.15 1.75-1.15 1.75-1.15-1.75z" fill="#6e6e6e"/>
<path d="M447.89 324.45l1.15 1.75-1.15 1.75-1.15-1.75z" fill="#6e6e6e"/>
<path d="M447.89 326.55l1.15 1.75-1.15 1.75-1.15-1.75z" fill="#6e6e6e"/>
<path d="M494.51 234.05l1.15 1.75-1.15 1.75-1.15-1.75z" fill="#6e6e6e"/>
<path d="M494.51 260.85l1.15 1.75-1.15 1.75-1.15-1.75z" fill="#6e6e6e"/>
<path d="M494.51 274.55l1.15 1.75-1.15 1.75-1.15-1.75z" fill="#6e6e6e"/>
<path d="M494.51 276.15l1.15 1.75-1.15 1.75-1.15-1.75z" fill="#6e6e6e"/>
<path d="M494.51 283.45l1.15 1.75-1.15 1.75-1.15-1.75z" fill="#6e6e6e"/>
<path d="M494.51 284.65l1.15 1.75-1.15 1.75-1.15-1.75z" fill="#6e6e6e"/>
<path d="M494.51 286.05l1.15 1.75-1.15 1.75-1.15-1.75z" fill="#6e6e6e"/>
<g fill="#1d5fb2">
<ellipse cx="339.11" cy="307.8" rx="0.85" ry="0.85"/>
<ellipse cx="337.12" cy="307.6" rx="0.85" ry="0.85"/>
<ellipse cx="339.11" cy="303.6" rx="0.85" ry="0.85"/>
<ellipse cx="339.11" cy="299.6" rx="0.85" ry="0.85"/>
<ellipse cx="337.12" cy="299.4" rx="0.85" ry="0.85"/>
<ellipse cx="340.16" cy="297.9" rx="0.85" ry="0.85"/>
<ellipse cx="338.23" cy="297.4" rx="0.85" ry="0.85"/>
<ellipse cx="341.9" cy="296.9" rx="0.85" ry="0.85"/>
<ellipse cx="336.63" cy="296.2" rx="0.85" ry="0.85"/>
<ellipse cx="339.11" cy="294.5" rx="0.85" ry="0.85"/>
<ellipse cx="341.1" cy="294.3" rx="0.85" ry="0.85"/>
<ellipse cx="339.11" cy="292.5" rx="0.85" ry="0.85"/>
<ellipse cx="337.12" cy="292.3" rx="0.85" ry="0.85"/>
<ellipse cx="339.11" cy="289.3" rx="0.85" ry="0.85"/>
<ellipse cx="337.12" cy="289.1" rx="0.85" ry="0.85"/>
<ellipse cx="339.98" cy="287.5" rx="0.85" ry="0.85"/>
<ellipse cx="337.99" cy="287.3" rx="0.85" ry="0.85"/>
<ellipse cx="341.04" cy="285.8" rx="0.85" ry="0.85"/>
<ellipse cx="339.05" cy="285.6" rx="0.85" ry="0.85"/>
<ellipse cx="339.11" cy="283.3" rx="0.85" ry="0.85"/>
<ellipse cx="337.14" cy="282.97" rx="0.85" ry="0.85"/>
<ellipse cx="341" cy="282.63" rx="0.85" ry="0.85"/>
<ellipse cx="335.25" cy="282.3" rx="0.85" ry="0.85"/>
<ellipse cx="342.71" cy="281.6" rx="0.85" ry="0.85"/>
<ellipse cx="339.11" cy="280.4" rx="0.85" ry="0.85"/>
<ellipse cx="337.12" cy="280.2" rx="0.85" ry="0.85"/>
<ellipse cx="339.11" cy="277.9" rx="0.85" ry="0.85"/>
<ellipse cx="337.12" cy="277.7" rx="0.85" ry="0.85"/>
<ellipse cx="340.16" cy="276.2" rx="0.85" ry="0.85"/>
<ellipse cx="338.17" cy="276" rx="0.85" ry="0.85"/>
<ellipse cx="339.11" cy="273.9" rx="0.85" ry="0.85"/>
<ellipse cx="337.68" cy="272.5" rx="0.85" ry="0.85"/>
<ellipse cx="340.31" cy="272.3" rx="0.85" ry="0.85"/>
<ellipse cx="339.11" cy="269" rx="0.85" ry="0.85"/>
<ellipse cx="339.11" cy="266.6" rx="0.85" ry="0.85"/>
<ellipse cx="339.11" cy="262.1" rx="0.85" ry="0.85"/>
<ellipse cx="339.11" cy="255.8" rx="0.85" ry="0.85"/>
<ellipse cx="337.59" cy="254.5" rx="0.85" ry="0.85"/>
<ellipse cx="339.11" cy="250.7" rx="0.85" ry="0.85"/>
<ellipse cx="337.79" cy="249.2" rx="0.85" ry="0.85"/>
<ellipse cx="324.5" cy="290.8" rx="0.85" ry="0.7"/>
<ellipse cx="326.57" cy="290.8" rx="0.85" ry="0.7"/>
<ellipse cx="328.64" cy="290.8" rx="0.85" ry="0.7"/>
<ellipse cx="330.71" cy="290.8" rx="0.85" ry="0.7"/>
<ellipse cx="332.79" cy="290.8" rx="0.85" ry="0.7"/>
<ellipse cx="334.86" cy="290.8" rx="0.85" ry="0.7"/>
<ellipse cx="336.93" cy="290.8" rx="0.85" ry="0.7"/>
<ellipse cx="339" cy="290.8" rx="0.85" ry="0.7"/>
<ellipse cx="341.07" cy="290.8" rx="0.85" ry="0.7"/>
<ellipse cx="343.14" cy="290.8" rx="0.85" ry="0.7"/>
<ellipse cx="345.21" cy="290.8" rx="0.85" ry="0.7"/>
<ellipse cx="347.29" cy="290.8" rx="0.85" ry="0.7"/>
<ellipse cx="349.36" cy="290.8" rx="0.85" ry="0.7"/>
<ellipse cx="351.43" cy="290.8" rx="0.85" ry="0.7"/>
<ellipse cx="353.5" cy="290.8" rx="0.85" ry="0.7"/>
</g>
<g fill="#f36c2e">
<ellipse cx="370.19" cy="303.7" rx="0.85" ry="0.85"/>
<ellipse cx="370.19" cy="290.5" rx="0.85" ry="0.85"/>
<ellipse cx="368.2" cy="290.3" rx="0.85" ry="0.85"/>
<ellipse cx="370.19" cy="288.5" rx="0.85" ry="0.85"/>
<ellipse cx="370.19" cy="286.4" rx="0.85" ry="0.85"/>
<ellipse cx="370.19" cy="284.3" rx="0.85" ry="0.85"/>
<ellipse cx="368.2" cy="284.1" rx="0.85" ry="0.85"/>
<ellipse cx="370.19" cy="282.2" rx="0.85" ry="0.85"/>
<ellipse cx="370.19" cy="280.2" rx="0.85" ry="0.85"/>
<ellipse cx="368.2" cy="280.05" rx="0.85" ry="0.85"/>
<ellipse cx="372.17" cy="279.9" rx="0.85" ry="0.85"/>
<ellipse cx="366.63" cy="278.8" rx="0.85" ry="0.85"/>
<ellipse cx="370.19" cy="275.3" rx="0.85" ry="0.85"/>
<ellipse cx="368.76" cy="273.9" rx="0.85" ry="0.85"/>
<ellipse cx="371.39" cy="273.7" rx="0.85" ry="0.85"/>
<ellipse cx="370.19" cy="271.9" rx="0.85" ry="0.85"/>
<ellipse cx="368.22" cy="271.57" rx="0.85" ry="0.85"/>
<ellipse cx="372.08" cy="271.23" rx="0.85" ry="0.85"/>
<ellipse cx="366.33" cy="270.9" rx="0.85" ry="0.85"/>
<ellipse cx="373.94" cy="270.5" rx="0.85" ry="0.85"/>
<ellipse cx="375.93" cy="270.3" rx="0.85" ry="0.85"/>
<ellipse cx="370.19" cy="268.4" rx="0.85" ry="0.85"/>
<ellipse cx="368.2" cy="268.2" rx="0.85" ry="0.85"/>
<ellipse cx="370.19" cy="266.3" rx="0.85" ry="0.85"/>
<ellipse cx="370.19" cy="264.2" rx="0.85" ry="0.85"/>
<ellipse cx="368.2" cy="264" rx="0.85" ry="0.85"/>
<ellipse cx="370.19" cy="259.8" rx="0.85" ry="0.85"/>
<ellipse cx="370.19" cy="257.7" rx="0.85" ry="0.85"/>
<ellipse cx="369.14" cy="256" rx="0.85" ry="0.85"/>
<ellipse cx="370.19" cy="254.2" rx="0.85" ry="0.85"/>
<ellipse cx="368.2" cy="254.05" rx="0.85" ry="0.85"/>
<ellipse cx="372.17" cy="253.9" rx="0.85" ry="0.85"/>
<ellipse cx="370.19" cy="252.2" rx="0.85" ry="0.85"/>
<ellipse cx="370.19" cy="246.3" rx="0.85" ry="0.85"/>
<ellipse cx="368.19" cy="246.24" rx="0.85" ry="0.85"/>
<ellipse cx="372.19" cy="246.18" rx="0.85" ry="0.85"/>
<ellipse cx="366.19" cy="246.12" rx="0.85" ry="0.85"/>
<ellipse cx="374.18" cy="246.06" rx="0.85" ry="0.85"/>
<ellipse cx="364.2" cy="246" rx="0.85" ry="0.85"/>
<ellipse cx="370.19" cy="242.7" rx="0.85" ry="0.85"/>
<ellipse cx="368.99" cy="241.1" rx="0.85" ry="0.85"/>
<ellipse cx="370.96" cy="240.77" rx="0.85" ry="0.85"/>
<ellipse cx="372.93" cy="240.43" rx="0.85" ry="0.85"/>
<ellipse cx="367.26" cy="240.1" rx="0.85" ry="0.85"/>
<ellipse cx="374.79" cy="239.7" rx="0.85" ry="0.85"/>
<ellipse cx="370.19" cy="237.6" rx="0.85" ry="0.85"/>
<ellipse cx="370.19" cy="233.5" rx="0.85" ry="0.85"/>
<ellipse cx="370.19" cy="230" rx="0.85" ry="0.85"/>
<ellipse cx="368.76" cy="228.6" rx="0.85" ry="0.85"/>
<ellipse cx="371.45" cy="228.45" rx="0.85" ry="0.85"/>
<ellipse cx="373.45" cy="228.3" rx="0.85" ry="0.85"/>
<ellipse cx="370.19" cy="226.5" rx="0.85" ry="0.85"/>
<ellipse cx="368.67" cy="225.2" rx="0.85" ry="0.85"/>
<ellipse cx="371.51" cy="225" rx="0.85" ry="0.85"/>
<ellipse cx="373.11" cy="223.8" rx="0.85" ry="0.85"/>
<ellipse cx="370.08" cy="223.6" rx="0.85" ry="0.85"/>
<ellipse cx="370.19" cy="221" rx="0.85" ry="0.85"/>
<ellipse cx="370.19" cy="218.9" rx="0.85" ry="0.85"/>
<ellipse cx="368.2" cy="218.7" rx="0.85" ry="0.85"/>
<ellipse cx="371.62" cy="217.5" rx="0.85" ry="0.85"/>
<ellipse cx="366.77" cy="217.3" rx="0.85" ry="0.85"/>
<ellipse cx="370.1" cy="216.2" rx="0.85" ry="0.85"/>
<ellipse cx="372.94" cy="216" rx="0.85" ry="0.85"/>
<ellipse cx="368.5" cy="215" rx="0.85" ry="0.85"/>
</g>
<g fill="#1d5fb2">
<ellipse cx="416.81" cy="334.2" rx="0.85" ry="0.85"/>
<ellipse cx="414.81" cy="334.09" rx="0.85" ry="0.85"/>
<ellipse cx="418.8" cy="333.97" rx="0.85" ry="0.85"/>
<ellipse cx="412.83" cy="333.86" rx="0.85" ry="0.85"/>
<ellipse cx="420.78" cy="333.74" rx="0.85" ry="0.85"/>
<ellipse cx="422.78" cy="333.63" rx="0.85" ry="0.85"/>
<ellipse cx="410.86" cy="333.51" rx="0.85" ry="0.85"/>
<ellipse cx="408.86" cy="333.4" rx="0.85" ry="0.85"/>
<ellipse cx="424.68" cy="333" rx="0.85" ry="0.85"/>
<ellipse cx="426.68" cy="332.91" rx="0.85" ry="0.85"/>
<ellipse cx="406.95" cy="332.82" rx="0.85" ry="0.85"/>
<ellipse cx="428.67" cy="332.73" rx="0.85" ry="0.85"/>
<ellipse cx="404.95" cy="332.64" rx="0.85" ry="0.85"/>
<ellipse cx="430.66" cy="332.55" rx="0.85" ry="0.85"/>
<ellipse cx="402.96" cy="332.45" rx="0.85" ry="0.85"/>
<ellipse cx="416.02" cy="332.36" rx="0.85" ry="0.85"/>
<ellipse cx="432.04" cy="332.27" rx="0.85" ry="0.85"/>
<ellipse cx="414.03" cy="332.18" rx="0.85" ry="0.85"/>
<ellipse cx="418" cy="332.09" rx="0.85" ry="0.85"/>
<ellipse cx="401.58" cy="332" rx="0.85" ry="0.85"/>
<ellipse cx="419.96" cy="331.7" rx="0.85" ry="0.85"/>
<ellipse cx="412.13" cy="331.55" rx="0.85" ry="0.85"/>
<ellipse cx="421.94" cy="331.4" rx="0.85" ry="0.85"/>
<ellipse cx="410.15" cy="331.25" rx="0.85" ry="0.85"/>
<ellipse cx="423.92" cy="331.1" rx="0.85" ry="0.85"/>
<ellipse cx="408.17" cy="330.95" rx="0.85" ry="0.85"/>
<ellipse cx="425.89" cy="330.8" rx="0.85" ry="0.85"/>
<ellipse cx="406.2" cy="330.65" rx="0.85" ry="0.85"/>
<ellipse cx="416.79" cy="330.5" rx="0.85" ry="0.85"/>
<ellipse cx="427.87" cy="330.5" rx="0.85" ry="0.85"/>
<ellipse cx="404.22" cy="330.37" rx="0.85" ry="0.85"/>
<ellipse cx="429.86" cy="330.35" rx="0.85" ry="0.85"/>
<ellipse cx="414.8" cy="330.23" rx="0.85" ry="0.85"/>
<ellipse cx="431.86" cy="330.2" rx="0.85" ry="0.85"/>
<ellipse cx="418.75" cy="330.1" rx="0.85" ry="0.85"/>
<ellipse cx="416.81" cy="328.4" rx="0.85" ry="0.85"/>
<ellipse cx="414.55" cy="328.25" rx="0.85" ry="0.85"/>
<ellipse cx="418.79" cy="328.1" rx="0.85" ry="0.85"/>
<ellipse cx="420.31" cy="326.8" rx="0.85" ry="0.85"/>
<ellipse cx="415.94" cy="326.6" rx="0.85" ry="0.85"/>
<ellipse cx="413.79" cy="326.4" rx="0.85" ry="0.85"/>
<ellipse cx="417.9" cy="326.2" rx="0.85" ry="0.85"/>
<ellipse cx="411.83" cy="326" rx="0.85" ry="0.85"/>
<ellipse cx="422.04" cy="325.8" rx="0.85" ry="0.85"/>
<ellipse cx="409.87" cy="325.6" rx="0.85" ry="0.85"/>
<ellipse cx="424.02" cy="325.5" rx="0.85" ry="0.85"/>
<ellipse cx="407.88" cy="325.37" rx="0.85" ry="0.85"/>
<ellipse cx="426" cy="325.23" rx="0.85" ry="0.85"/>
<ellipse cx="405.9" cy="325.1" rx="0.85" ry="0.85"/>
<ellipse cx="416.81" cy="323.9" rx="0.85" ry="0.85"/>
<ellipse cx="414.82" cy="323.75" rx="0.85" ry="0.85"/>
<ellipse cx="418.79" cy="323.6" rx="0.85" ry="0.85"/>
<ellipse cx="416.81" cy="321.4" rx="0.85" ry="0.85"/>
<ellipse cx="414.82" cy="321.21" rx="0.85" ry="0.85"/>
<ellipse cx="418.77" cy="321.02" rx="0.85" ry="0.85"/>
<ellipse cx="412.85" cy="320.84" rx="0.85" ry="0.85"/>
<ellipse cx="420.74" cy="320.65" rx="0.85" ry="0.85"/>
<ellipse cx="410.89" cy="320.46" rx="0.85" ry="0.85"/>
<ellipse cx="422.7" cy="320.27" rx="0.85" ry="0.85"/>
<ellipse cx="408.93" cy="320.09" rx="0.85" ry="0.85"/>
<ellipse cx="424.67" cy="319.9" rx="0.85" ry="0.85"/>
<ellipse cx="426.67" cy="319.9" rx="0.85" ry="0.85"/>
<ellipse cx="406.95" cy="319.75" rx="0.85" ry="0.85"/>
<ellipse cx="428.65" cy="319.6" rx="0.85" ry="0.85"/>
<ellipse cx="416.81" cy="317.2" rx="0.85" ry="0.85"/>
<ellipse cx="414.82" cy="317" rx="0.85" ry="0.85"/>
<ellipse cx="416.81" cy="314.9" rx="0.85" ry="0.85"/>
<ellipse cx="414.82" cy="314.7" rx="0.85" ry="0.85"/>
<ellipse cx="416.81" cy="311.8" rx="0.85" ry="0.85"/>
<ellipse cx="416.81" cy="308.7" rx="0.85" ry="0.85"/>
<ellipse cx="414.82" cy="308.55" rx="0.85" ry="0.85"/>
<ellipse cx="418.79" cy="308.4" rx="0.85" ry="0.85"/>
<ellipse cx="416.19" cy="306.8" rx="0.85" ry="0.85"/>
<ellipse cx="417.06" cy="305" rx="0.85" ry="0.85"/>
<ellipse cx="416.81" cy="302.5" rx="0.85" ry="0.85"/>
<ellipse cx="416.81" cy="299.7" rx="0.85" ry="0.85"/>
<ellipse cx="414.81" cy="299.6" rx="0.85" ry="0.85"/>
<ellipse cx="418.8" cy="299.5" rx="0.85" ry="0.85"/>
<ellipse cx="412.82" cy="299.4" rx="0.85" ry="0.85"/>
<ellipse cx="416.81" cy="297.5" rx="0.85" ry="0.85"/>
<ellipse cx="416.19" cy="295.6" rx="0.85" ry="0.85"/>
<ellipse cx="416.81" cy="290.8" rx="0.85" ry="0.85"/>
<ellipse cx="415.49" cy="289.3" rx="0.85" ry="0.85"/>
<ellipse cx="416.81" cy="287.8" rx="0.85" ry="0.85"/>
<ellipse cx="416.81" cy="277.1" rx="0.85" ry="0.85"/>
<ellipse cx="416.81" cy="264.1" rx="0.85" ry="0.85"/>
<ellipse cx="414.82" cy="263.9" rx="0.85" ry="0.85"/>
<ellipse cx="416.81" cy="258" rx="0.85" ry="0.85"/>
<ellipse cx="416.81" cy="250.4" rx="0.85" ry="0.85"/>
<ellipse cx="416.81" cy="245.8" rx="0.85" ry="0.85"/>
<ellipse cx="416.81" cy="236.7" rx="0.85" ry="0.85"/>
<ellipse cx="416.81" cy="214.9" rx="0.85" ry="0.85"/>
<ellipse cx="414.82" cy="214.7" rx="0.85" ry="0.85"/>
</g>
<g fill="#f36c2e">
<ellipse cx="447.89" cy="328.3" rx="0.85" ry="0.85"/>
<ellipse cx="447.89" cy="326.2" rx="0.85" ry="0.85"/>
<ellipse cx="447.89" cy="324" rx="0.85" ry="0.85"/>
<ellipse cx="447.89" cy="319.1" rx="0.85" ry="0.85"/>
<ellipse cx="447.89" cy="307.7" rx="0.85" ry="0.85"/>
<ellipse cx="447.89" cy="303" rx="0.85" ry="0.85"/>
<ellipse cx="447.89" cy="295.8" rx="0.85" ry="0.85"/>
<ellipse cx="445.9" cy="295.65" rx="0.85" ry="0.85"/>
<ellipse cx="449.87" cy="295.5" rx="0.85" ry="0.85"/>
<ellipse cx="447.89" cy="281.2" rx="0.85" ry="0.85"/>
<ellipse cx="447.89" cy="273.6" rx="0.85" ry="0.85"/>
<ellipse cx="447.89" cy="261.4" rx="0.85" ry="0.85"/>
<ellipse cx="447.89" cy="255" rx="0.85" ry="0.85"/>
<ellipse cx="447.89" cy="252.2" rx="0.85" ry="0.85"/>
<ellipse cx="447.89" cy="243.2" rx="0.85" ry="0.85"/>
<ellipse cx="445.9" cy="243" rx="0.85" ry="0.85"/>
<ellipse cx="447.89" cy="227.7" rx="0.85" ry="0.85"/>
<ellipse cx="445.9" cy="227.5" rx="0.85" ry="0.85"/>
<ellipse cx="447.89" cy="221.8" rx="0.85" ry="0.85"/>
<ellipse cx="445.9" cy="221.6" rx="0.85" ry="0.85"/>
<ellipse cx="447.89" cy="216.9" rx="0.85" ry="0.85"/>
<ellipse cx="445.9" cy="216.7" rx="0.85" ry="0.85"/>
<ellipse cx="449.56" cy="215.8" rx="0.85" ry="0.85"/>
<ellipse cx="444.28" cy="215.53" rx="0.85" ry="0.85"/>
<ellipse cx="451.49" cy="215.27" rx="0.85" ry="0.85"/>
<ellipse cx="447.27" cy="215" rx="0.85" ry="0.85"/>
<ellipse cx="433" cy="214.6" rx="0.85" ry="0.7"/>
<ellipse cx="435.14" cy="214.6" rx="0.85" ry="0.7"/>
<ellipse cx="437.29" cy="214.6" rx="0.85" ry="0.7"/>
<ellipse cx="439.43" cy="214.6" rx="0.85" ry="0.7"/>
<ellipse cx="441.57" cy="214.6" rx="0.85" ry="0.7"/>
<ellipse cx="443.71" cy="214.6" rx="0.85" ry="0.7"/>
<ellipse cx="445.86" cy="214.6" rx="0.85" ry="0.7"/>
<ellipse cx="448" cy="214.6" rx="0.85" ry="0.7"/>
<ellipse cx="450.14" cy="214.6" rx="0.85" ry="0.7"/>
<ellipse cx="452.29" cy="214.6" rx="0.85" ry="0.7"/>
<ellipse cx="454.43" cy="214.6" rx="0.85" ry="0.7"/>
<ellipse cx="456.57" cy="214.6" rx="0.85" ry="0.7"/>
<ellipse cx="458.71" cy="214.6" rx="0.85" ry="0.7"/>
<ellipse cx="460.86" cy="214.6" rx="0.85" ry="0.7"/>
<ellipse cx="463" cy="214.6" rx="0.85" ry="0.7"/>
</g>
<g fill="#1d5fb2">
<ellipse cx="494.51" cy="331.4" rx="0.85" ry="0.85"/>
<ellipse cx="494.51" cy="329.3" rx="0.85" ry="0.85"/>
<ellipse cx="492.52" cy="329.1" rx="0.85" ry="0.85"/>
<ellipse cx="495.94" cy="327.9" rx="0.85" ry="0.85"/>
<ellipse cx="497.93" cy="327.75" rx="0.85" ry="0.85"/>
<ellipse cx="491.2" cy="327.6" rx="0.85" ry="0.85"/>
<ellipse cx="494.42" cy="326.6" rx="0.85" ry="0.85"/>
<ellipse cx="499.47" cy="326.47" rx="0.85" ry="0.85"/>
<ellipse cx="489.65" cy="326.33" rx="0.85" ry="0.85"/>
<ellipse cx="487.65" cy="326.2" rx="0.85" ry="0.85"/>
<ellipse cx="495.85" cy="325.2" rx="0.85" ry="0.85"/>
<ellipse cx="493.13" cy="325.07" rx="0.85" ry="0.85"/>
<ellipse cx="497.83" cy="324.93" rx="0.85" ry="0.85"/>
<ellipse cx="491.15" cy="324.8" rx="0.85" ry="0.85"/>
<ellipse cx="499.48" cy="323.8" rx="0.85" ry="0.85"/>
<ellipse cx="494.51" cy="323.56" rx="0.85" ry="0.85"/>
<ellipse cx="496.53" cy="323.32" rx="0.85" ry="0.85"/>
<ellipse cx="492.57" cy="323.08" rx="0.85" ry="0.85"/>
<ellipse cx="490.58" cy="322.84" rx="0.85" ry="0.85"/>
<ellipse cx="488.6" cy="322.6" rx="0.85" ry="0.85"/>
<ellipse cx="495.25" cy="321.7" rx="0.85" ry="0.85"/>
<ellipse cx="497.51" cy="321.57" rx="0.85" ry="0.85"/>
<ellipse cx="499.5" cy="321.45" rx="0.85" ry="0.85"/>
<ellipse cx="501.5" cy="321.32" rx="0.85" ry="0.85"/>
<ellipse cx="493.31" cy="321.2" rx="0.85" ry="0.85"/>
<ellipse cx="491.52" cy="320.3" rx="0.85" ry="0.85"/>
<ellipse cx="489.53" cy="320.17" rx="0.85" ry="0.85"/>
<ellipse cx="487.53" cy="320.03" rx="0.85" ry="0.85"/>
<ellipse cx="496.12" cy="319.9" rx="0.85" ry="0.85"/>
<ellipse cx="494.38" cy="318.9" rx="0.85" ry="0.85"/>
<ellipse cx="497.69" cy="318.66" rx="0.85" ry="0.85"/>
<ellipse cx="492.44" cy="318.42" rx="0.85" ry="0.85"/>
<ellipse cx="490.46" cy="318.18" rx="0.85" ry="0.85"/>
<ellipse cx="499.55" cy="317.94" rx="0.85" ry="0.85"/>
<ellipse cx="488.52" cy="317.7" rx="0.85" ry="0.85"/>
<ellipse cx="495.81" cy="317.5" rx="0.85" ry="0.85"/>
<ellipse cx="501.47" cy="317.38" rx="0.85" ry="0.85"/>
<ellipse cx="486.57" cy="317.25" rx="0.85" ry="0.85"/>
<ellipse cx="503.45" cy="317.12" rx="0.85" ry="0.85"/>
<ellipse cx="484.58" cy="317" rx="0.85" ry="0.85"/>
<ellipse cx="494.29" cy="316.2" rx="0.85" ry="0.85"/>
<ellipse cx="492.3" cy="316.07" rx="0.85" ry="0.85"/>
<ellipse cx="497.06" cy="315.93" rx="0.85" ry="0.85"/>
<ellipse cx="490.32" cy="315.8" rx="0.85" ry="0.85"/>
<ellipse cx="498.7" cy="314.8" rx="0.85" ry="0.85"/>
<ellipse cx="488.66" cy="314.68" rx="0.85" ry="0.85"/>
<ellipse cx="495.42" cy="314.55" rx="0.85" ry="0.85"/>
<ellipse cx="500.67" cy="314.43" rx="0.85" ry="0.85"/>
<ellipse cx="493.44" cy="314.3" rx="0.85" ry="0.85"/>
<ellipse cx="497.06" cy="313.4" rx="0.85" ry="0.85"/>
<ellipse cx="491.8" cy="313.16" rx="0.85" ry="0.85"/>
<ellipse cx="489.81" cy="312.92" rx="0.85" ry="0.85"/>
<ellipse cx="494.61" cy="312.68" rx="0.85" ry="0.85"/>
<ellipse cx="498.81" cy="312.44" rx="0.85" ry="0.85"/>
<ellipse cx="500.8" cy="312.2" rx="0.85" ry="0.85"/>
<ellipse cx="488.03" cy="312" rx="0.85" ry="0.85"/>
<ellipse cx="502.77" cy="311.85" rx="0.85" ry="0.85"/>
<ellipse cx="486.06" cy="311.7" rx="0.85" ry="0.85"/>
<ellipse cx="494.51" cy="310.6" rx="0.85" ry="0.85"/>
<ellipse cx="492.52" cy="310.45" rx="0.85" ry="0.85"/>
<ellipse cx="496.49" cy="310.3" rx="0.85" ry="0.85"/>
<ellipse cx="494.51" cy="307.9" rx="0.85" ry="0.85"/>
<ellipse cx="492.52" cy="307.75" rx="0.85" ry="0.85"/>
<ellipse cx="496.49" cy="307.6" rx="0.85" ry="0.85"/>
<ellipse cx="490.95" cy="306.5" rx="0.85" ry="0.85"/>
<ellipse cx="498.01" cy="306.3" rx="0.85" ry="0.85"/>
<ellipse cx="494.51" cy="304.4" rx="0.85" ry="0.85"/>
<ellipse cx="492.52" cy="304.2" rx="0.85" ry="0.85"/>
<ellipse cx="495.94" cy="303" rx="0.85" ry="0.85"/>
<ellipse cx="494.51" cy="300.2" rx="0.85" ry="0.85"/>
<ellipse cx="494.51" cy="298.2" rx="0.85" ry="0.85"/>
<ellipse cx="494.51" cy="295.4" rx="0.85" ry="0.85"/>
<ellipse cx="494.51" cy="292.6" rx="0.85" ry="0.85"/>
<ellipse cx="494.51" cy="290.3" rx="0.85" ry="0.85"/>
<ellipse cx="494.51" cy="287.8" rx="0.85" ry="0.85"/>
<ellipse cx="493.08" cy="286.4" rx="0.85" ry="0.85"/>
<ellipse cx="494.68" cy="285.2" rx="0.85" ry="0.85"/>
<ellipse cx="494.51" cy="277.9" rx="0.85" ry="0.85"/>
<ellipse cx="493.31" cy="276.3" rx="0.85" ry="0.85"/>
<ellipse cx="494.51" cy="262.6" rx="0.85" ry="0.85"/>
<ellipse cx="494.51" cy="235.8" rx="0.85" ry="0.85"/>
<ellipse cx="492.52" cy="235.6" rx="0.85" ry="0.85"/>
</g>
<g fill="#f36c2e">
<ellipse cx="525.59" cy="329.7" rx="0.85" ry="0.85"/>
<ellipse cx="525.59" cy="323.3" rx="0.85" ry="0.85"/>
<ellipse cx="525.59" cy="315.8" rx="0.85" ry="0.85"/>
<ellipse cx="523.6" cy="315.6" rx="0.85" ry="0.85"/>
<ellipse cx="525.59" cy="307.6" rx="0.85" ry="0.85"/>
<ellipse cx="524.07" cy="306.3" rx="0.85" ry="0.85"/>
<ellipse cx="526.91" cy="306.1" rx="0.85" ry="0.85"/>
<ellipse cx="528.75" cy="305.3" rx="0.85" ry="0.85"/>
<ellipse cx="522.47" cy="305.1" rx="0.85" ry="0.85"/>
<ellipse cx="525.59" cy="304.2" rx="0.85" ry="0.85"/>
<ellipse cx="523.76" cy="303.4" rx="0.85" ry="0.85"/>
<ellipse cx="525.59" cy="300" rx="0.85" ry="0.85"/>
<ellipse cx="523.76" cy="299.2" rx="0.85" ry="0.85"/>
<ellipse cx="526.79" cy="298.4" rx="0.85" ry="0.85"/>
<ellipse cx="525.59" cy="286.2" rx="0.85" ry="0.85"/>
<ellipse cx="523.6" cy="286" rx="0.85" ry="0.85"/>
<ellipse cx="524.97" cy="284.3" rx="0.85" ry="0.85"/>
<ellipse cx="526.96" cy="284.1" rx="0.85" ry="0.85"/>
<ellipse cx="525.59" cy="274.8" rx="0.85" ry="0.85"/>
<ellipse cx="525.59" cy="261.9" rx="0.85" ry="0.85"/>
<ellipse cx="525.59" cy="258" rx="0.85" ry="0.85"/>
<ellipse cx="525.59" cy="253" rx="0.85" ry="0.85"/>
<ellipse cx="525.59" cy="249.2" rx="0.85" ry="0.85"/>
<ellipse cx="525.59" cy="246.9" rx="0.85" ry="0.85"/>
<ellipse cx="525.59" cy="243.1" rx="0.85" ry="0.85"/>
<ellipse cx="525.59" cy="235.2" rx="0.85" ry="0.85"/>
<ellipse cx="525.59" cy="231.7" rx="0.85" ry="0.85"/>
<ellipse cx="525.59" cy="229.4" rx="0.85" ry="0.85"/>
<ellipse cx="525.59" cy="224" rx="0.85" ry="0.85"/>
<ellipse cx="525.59" cy="219.5" rx="0.85" ry="0.85"/>
<ellipse cx="525.59" cy="216" rx="0.85" ry="0.85"/>
<ellipse cx="511" cy="214.6" rx="0.85" ry="0.7"/>
<ellipse cx="513.11" cy="214.6" rx="0.85" ry="0.7"/>
<ellipse cx="515.21" cy="214.6" rx="0.85" ry="0.7"/>
<ellipse cx="517.32" cy="214.6" rx="0.85" ry="0.7"/>
<ellipse cx="519.43" cy="214.6" rx="0.85" ry="0.7"/>
<ellipse cx="521.54" cy="214.6" rx="0.85" ry="0.7"/>
<ellipse cx="523.64" cy="214.6" rx="0.85" ry="0.7"/>
<ellipse cx="525.75" cy="214.6" rx="0.85" ry="0.7"/>
<ellipse cx="527.86" cy="214.6" rx="0.85" ry="0.7"/>
<ellipse cx="529.96" cy="214.6" rx="0.85" ry="0.7"/>
<ellipse cx="532.07" cy="214.6" rx="0.85" ry="0.7"/>
<ellipse cx="534.18" cy="214.6" rx="0.85" ry="0.7"/>
<ellipse cx="536.29" cy="214.6" rx="0.85" ry="0.7"/>
<ellipse cx="538.39" cy="214.6" rx="0.85" ry="0.7"/>
<ellipse cx="540.5" cy="214.6" rx="0.85" ry="0.7"/>
</g>
<rect x="41.6" y="8.1" width="43.9" height="20" rx="1.6" fill="#fff" stroke="#e2e2e2" stroke-width="0.8"/>
<circle cx="50.5" cy="14" r="1.45" fill="#1d5fb2"/>
<circle cx="50.5" cy="22.6" r="1.45" fill="#f36c2e"/>
<text x="61.2" y="15.8" font-size="6.4" text-anchor="start" fill="#262626" color="#262626" font-weight="normal" textLength="21.8" lengthAdjust="spacingAndGlyphs">Normal</text>
<text x="61.2" y="24.5" font-size="6.4" text-anchor="start" fill="#262626" color="#262626" font-weight="normal" textLength="20.3" lengthAdjust="spacingAndGlyphs">Cancer</text>
</svg>
</body></html>
